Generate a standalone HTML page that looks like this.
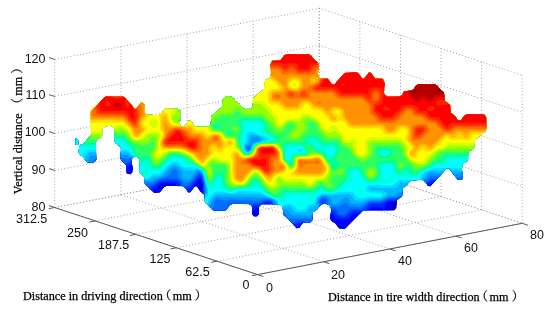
<!DOCTYPE html>
<html><head><meta charset="utf-8"><style>
html,body{margin:0;padding:0;background:#fff;width:550px;height:314px;overflow:hidden}
svg{display:block}
.t{font-family:"Liberation Sans",Arial,sans-serif;font-size:12.5px;fill:#111}
.l{font-family:"Liberation Serif","Noto Serif CJK SC",serif;font-size:12.2px;fill:#000;stroke:#000;stroke-width:0.25px}
</style></head><body>
<svg width="550" height="314" viewBox="0 0 550 314">
<g stroke="#9a9a9a" stroke-width="0.9" stroke-dasharray="1 2.2" fill="none"><line x1="54.7" y1="207.5" x2="319.3" y2="156.2"/><line x1="54.7" y1="170.5" x2="319.3" y2="119.2"/><line x1="54.7" y1="133.5" x2="319.3" y2="82.2"/><line x1="54.7" y1="96.5" x2="319.3" y2="45.2"/><line x1="54.7" y1="59.5" x2="319.3" y2="8.2"/><line x1="54.7" y1="207.5" x2="54.7" y2="59.5"/><line x1="120.9" y1="194.7" x2="120.9" y2="46.7"/><line x1="187" y1="181.8" x2="187" y2="33.8"/><line x1="253.2" y1="169" x2="253.2" y2="21"/><line x1="319.3" y1="156.2" x2="319.3" y2="8.2"/><line x1="319.3" y1="156.2" x2="522.2" y2="223.3"/><line x1="319.3" y1="119.2" x2="522.2" y2="186.3"/><line x1="319.3" y1="82.2" x2="522.2" y2="149.3"/><line x1="319.3" y1="45.2" x2="522.2" y2="112.3"/><line x1="319.3" y1="8.2" x2="522.2" y2="75.3"/><line x1="319.3" y1="156.2" x2="319.3" y2="8.2"/><line x1="359.9" y1="169.6" x2="359.9" y2="21.6"/><line x1="400.5" y1="183" x2="400.5" y2="35"/><line x1="441" y1="196.5" x2="441" y2="48.5"/><line x1="481.6" y1="209.9" x2="481.6" y2="61.9"/><line x1="522.2" y1="223.3" x2="522.2" y2="75.3"/><line x1="54.7" y1="207.5" x2="319.3" y2="156.2"/><line x1="95.3" y1="220.9" x2="359.9" y2="169.6"/><line x1="135.9" y1="234.3" x2="400.5" y2="183"/><line x1="176.4" y1="247.8" x2="441" y2="196.5"/><line x1="217" y1="261.2" x2="481.6" y2="209.9"/><line x1="257.6" y1="274.6" x2="522.2" y2="223.3"/><line x1="54.7" y1="207.5" x2="257.6" y2="274.6"/><line x1="120.9" y1="194.7" x2="323.8" y2="261.8"/><line x1="187" y1="181.8" x2="389.9" y2="249"/><line x1="253.2" y1="169" x2="456.1" y2="236.1"/><line x1="319.3" y1="156.2" x2="522.2" y2="223.3"/></g>
<g fill-rule="evenodd"><path fill="#000092" d="M75.8 138.2 75.8 144.8 78.2 144.8 78.2 140.2ZM486.2 117.2 484.2 114.8 481.8 114.2 466.8 114.2 463.8 116.2 461.2 120.2 457.8 120.2 455.2 116.2 450.8 112.8 450.2 105.2 444.8 100.8 443.8 92.2 441.2 90.8 436.8 85.2 434.2 84.2 418.8 84.2 416.2 85.2 414.2 88.8 411.8 90.8 404.2 91.2 402.2 94.8 399.8 96.8 387.2 96.8 384.2 94.2 383.8 92.2 384.8 85.2 383.8 80.2 382.2 78.8 375.2 78.8 370.8 72.8 368.8 72.8 364.2 78.8 362.2 78.8 359.2 74.2 356.2 72.2 345.2 72.8 337.8 80.2 335.2 84.2 332.8 84.8 330.2 82.8 327.8 78.8 320.8 78.8 318.8 76.8 317.8 73.8 318.8 67.8 318.2 63.2 312.2 57.8 310.8 55.2 308.2 54.2 287.2 54.2 284.2 55.2 280.8 60.2 272.8 60.8 271.2 62.2 270.2 65.2 271.2 71.8 270.8 75.8 268.8 78.2 265.2 80.2 264.2 88.8 253.2 98.2 252.8 105.8 250.8 108.2 248.2 109.2 243.2 108.8 239.2 103.8 234.8 100.8 231.8 96.8 225.2 96.8 222.8 99.2 222.2 106.8 211.2 116.2 210.8 124.2 208.2 126.8 195.2 126.8 190.8 120.8 188.8 120.8 184.2 126.8 181.2 126.2 179.8 124.2 180.8 112.8 180.2 110.8 177.8 108.8 165.2 108.8 160.8 114.2 157.8 115.2 146.8 114.8 144.2 112.2 144.8 104.8 142.8 102.8 140.8 102.8 136.2 108.8 134.2 108.8 130.8 103.8 123.8 96.8 105.2 96.8 90.8 111.2 91.2 134.8 83.2 144.2 79.2 145.2 78.8 152.2 79.2 154.2 82.8 156.8 87.2 162.2 92.2 162.8 94.8 161.8 96.2 159.8 95.8 141.8 98.2 138.8 101.8 136.8 102.2 128.8 105.2 126.2 110.2 125.8 112.8 126.8 114.8 129.2 114.2 140.2 115.2 142.8 120.8 147.2 121.2 151.2 120.2 157.2 121.2 160.2 126.2 165.2 126.8 173.2 130.2 174.2 132.2 172.2 132.8 167.8 131.8 164.2 131.8 158.8 134.2 156.2 137.2 156.8 139.2 159.2 139.8 162.2 139.2 171.8 144.8 177.2 144.8 183.8 154.2 192.8 159.8 192.2 164.2 186.8 167.2 185.8 182.2 185.8 185.8 188.2 188.2 192.2 190.2 192.2 194.8 186.2 196.8 186.2 200.2 191.2 204.2 194.2 205.2 202.8 207.8 204.2 212.2 209.8 215.2 210.8 225.8 210.2 230.2 204.8 232.8 203.8 248.2 203.8 250.8 204.8 252.2 206.8 252.2 214.2 254.2 216.2 256.8 216.2 258.8 214.2 258.8 206.8 261.2 204.2 279.8 204.2 282.8 206.8 283.2 214.8 285.8 216.2 296.8 228.2 299.2 227.8 303.2 222.2 310.2 222.2 312.2 220.2 312.8 212.2 317.2 209.2 321.2 204.2 326.2 203.8 328.8 204.8 330.8 207.2 331.2 210.8 330.2 217.8 331.2 220.8 335.2 223.2 339.2 228.2 344.8 228.8 363.2 210.2 394.2 210.2 396.2 208.2 396.8 200.2 402.2 195.8 402.8 188.2 411.2 180.2 422.2 179.8 425.8 182.2 427.8 185.8 430.2 186.2 446.8 168.2 448.8 168.2 457.8 179.8 461.8 179.8 462.8 178.2 462.8 173.2 461.8 170.8 462.2 165.2 464.2 162.8 467.8 160.8 468.2 153.2 470.2 150.8 473.8 148.8 474.8 140.2 485.8 130.8 486.8 127.8Z"/><path fill="#0000b6" d="M75.8 138.2 75.8 144.8 78.2 144.8 78.2 140.2ZM486.2 117.2 484.2 114.8 481.8 114.2 466.8 114.2 463.8 116.2 461.2 120.2 457.8 120.2 455.2 116.2 450.8 112.8 450.2 105.2 444.8 100.8 443.8 92.2 441.2 90.8 436.8 85.2 434.2 84.2 418.8 84.2 416.2 85.2 414.2 88.8 411.8 90.8 404.2 91.2 402.2 94.8 399.8 96.8 387.2 96.8 384.2 94.2 383.8 92.2 384.8 85.2 383.8 80.2 382.2 78.8 375.2 78.8 370.8 72.8 368.8 72.8 364.2 78.8 362.2 78.8 359.2 74.2 356.2 72.2 345.2 72.8 337.8 80.2 335.2 84.2 332.8 84.8 330.2 82.8 327.8 78.8 320.8 78.8 318.8 76.8 317.8 73.8 318.8 67.8 318.2 63.2 312.2 57.8 310.8 55.2 308.2 54.2 287.2 54.2 284.2 55.2 280.8 60.2 272.8 60.8 271.2 62.2 270.2 65.2 271.2 71.8 270.8 75.8 268.8 78.2 265.2 80.2 264.2 88.8 253.2 98.2 252.8 105.8 250.8 108.2 248.2 109.2 243.2 108.8 239.2 103.8 234.8 100.8 231.8 96.8 225.2 96.8 222.8 99.2 222.2 106.8 211.2 116.2 210.8 124.2 208.2 126.8 195.2 126.8 190.8 120.8 188.8 120.8 184.2 126.8 181.2 126.2 179.8 124.2 180.8 112.8 180.2 110.8 177.8 108.8 165.2 108.8 160.8 114.2 157.8 115.2 146.8 114.8 144.2 112.2 144.8 104.8 142.8 102.8 140.8 102.8 136.2 108.8 134.2 108.8 130.8 103.8 123.8 96.8 105.2 96.8 90.8 111.2 91.2 134.8 83.2 144.2 79.2 145.2 78.8 152.2 79.2 154.2 82.8 156.8 87.2 162.2 92.2 162.8 94.8 161.8 96.2 159.8 95.8 141.8 98.2 138.8 101.8 136.8 102.2 128.8 105.2 126.2 110.2 125.8 112.8 126.8 114.8 129.2 114.2 140.2 115.2 142.8 120.8 147.2 121.2 151.2 120.2 157.2 121.2 160.2 126.2 165.2 126.8 173.2 130.2 174.2 132.2 172.2 132.8 167.8 131.8 164.2 131.8 158.8 134.2 156.2 137.2 156.8 139.2 159.2 139.8 162.2 139.2 171.8 144.8 177.2 144.8 183.8 154.2 192.8 159.8 192.2 164.2 186.8 167.2 185.8 182.2 185.8 185.8 188.2 188.2 192.2 190.2 192.2 194.8 186.2 196.8 186.2 200.2 191.2 204.2 194.2 205.2 202.8 207.8 204.2 212.2 209.8 215.2 210.8 225.8 210.2 230.2 204.8 232.8 203.8 248.2 203.8 250.8 204.8 252.2 206.8 252.2 214.2 254.2 216.2 256.8 216.2 258.8 214.2 258.8 206.8 261.2 204.2 279.8 204.2 282.8 206.8 283.2 214.8 285.8 216.2 296.8 228.2 299.2 227.8 303.2 222.2 310.2 222.2 312.2 220.2 312.8 212.2 317.2 209.2 321.2 204.2 326.2 203.8 328.8 204.8 330.8 207.2 331.2 210.8 330.2 217.8 331.2 220.8 335.2 223.2 339.2 228.2 344.8 228.8 363.2 210.2 394.2 210.2 396.2 208.2 396.8 200.2 402.2 195.8 402.8 188.2 411.2 180.2 422.2 179.8 425.8 182.2 427.8 185.8 430.2 186.2 446.8 168.2 448.8 168.2 457.8 179.8 461.8 179.8 462.8 178.2 462.8 173.2 461.8 170.8 462.2 165.2 464.2 162.8 467.8 160.8 468.2 153.2 470.2 150.8 473.8 148.8 474.8 140.2 485.8 130.8 486.8 127.8Z"/><path fill="#0000db" d="M75.8 138.2 75.8 144.8 78.2 144.8 78.2 140.2ZM486.2 117.2 484.2 114.8 481.8 114.2 466.8 114.2 463.8 116.2 461.2 120.2 457.8 120.2 455.2 116.2 450.8 112.8 450.2 105.2 444.8 100.8 443.8 92.2 441.2 90.8 436.8 85.2 434.2 84.2 418.8 84.2 416.2 85.2 414.2 88.8 411.8 90.8 404.2 91.2 402.2 94.8 399.8 96.8 387.2 96.8 384.2 94.2 383.8 92.2 384.8 85.2 383.8 80.2 382.2 78.8 375.2 78.8 370.8 72.8 368.8 72.8 364.2 78.8 362.2 78.8 359.2 74.2 356.2 72.2 345.2 72.8 337.8 80.2 335.2 84.2 332.8 84.8 330.2 82.8 327.8 78.8 320.8 78.8 318.8 76.8 317.8 73.8 318.8 67.8 318.2 63.2 312.2 57.8 310.8 55.2 308.2 54.2 287.2 54.2 284.2 55.2 280.8 60.2 272.8 60.8 271.2 62.2 270.2 65.2 271.2 71.8 270.8 75.8 268.8 78.2 265.2 80.2 264.2 88.8 253.2 98.2 252.8 105.8 250.8 108.2 248.2 109.2 243.2 108.8 239.2 103.8 234.8 100.8 231.8 96.8 225.2 96.8 222.8 99.2 222.2 106.8 211.2 116.2 210.8 124.2 208.2 126.8 195.2 126.8 190.8 120.8 188.8 120.8 184.2 126.8 181.2 126.2 179.8 124.2 180.8 112.8 180.2 110.8 177.8 108.8 165.2 108.8 160.8 114.2 157.8 115.2 146.8 114.8 144.2 112.2 144.8 104.8 142.8 102.8 140.8 102.8 136.2 108.8 134.2 108.8 130.8 103.8 123.8 96.8 105.2 96.8 90.8 111.2 91.2 134.8 83.2 144.2 79.2 145.2 78.8 152.2 79.2 154.2 82.8 156.8 87.2 162.2 92.2 162.8 94.8 161.8 96.2 159.8 95.8 141.8 98.2 138.8 101.8 136.8 102.2 128.8 105.2 126.2 110.2 125.8 112.8 126.8 114.8 129.2 114.2 140.2 115.2 142.8 120.8 147.2 121.2 151.2 120.2 157.2 121.2 160.2 126.2 165.2 126.8 173.2 130.2 174.2 132.2 172.2 132.8 167.8 131.8 164.2 131.8 158.8 134.2 156.2 137.2 156.8 139.2 159.2 139.8 162.2 139.2 171.8 144.8 177.2 144.8 183.8 154.2 192.8 159.8 192.2 164.2 186.8 167.2 185.8 182.2 185.8 185.8 188.2 188.2 192.2 190.2 192.2 194.8 186.2 196.8 186.2 197.8 187.2 199.2 186.8 200.2 191.2 204.8 195.2 205.2 202.8 207.8 204.2 212.2 209.8 215.2 210.8 225.8 210.2 230.2 204.8 232.8 203.8 248.2 203.8 250.8 204.8 252.2 206.8 252.2 214.2 254.2 216.2 256.8 216.2 258.8 214.2 258.8 206.8 261.2 204.2 279.8 204.2 282.8 206.8 283.2 214.8 285.8 216.2 296.8 228.2 299.2 227.8 303.2 222.2 310.2 222.2 312.2 220.2 312.8 212.2 317.2 209.2 321.2 204.2 326.2 203.8 328.8 204.8 330.8 207.2 331.2 210.8 330.2 217.8 331.2 220.8 335.2 223.2 339.2 228.2 344.8 228.8 363.2 210.2 392.2 210.2 392.8 206.8 396.2 205.2 396.8 200.2 402.2 195.8 402.8 188.2 411.2 180.2 422.2 179.8 425.8 182.2 427.8 185.8 430.2 186.2 446.8 168.2 448.8 168.2 457.8 179.8 461.8 179.8 462.8 178.2 462.8 173.2 461.8 170.8 462.2 165.2 464.2 162.8 467.8 160.8 468.2 153.2 470.2 150.8 473.8 148.8 474.8 140.2 485.8 130.8 486.8 127.8Z"/><path fill="#0000ff" d="M75.8 138.2 75.8 144.8 78.2 144.8 78.2 140.2ZM486.2 117.2 484.2 114.8 481.8 114.2 466.8 114.2 463.8 116.2 461.2 120.2 457.8 120.2 455.2 116.2 450.8 112.8 450.2 105.2 444.8 100.8 443.8 92.2 441.2 90.8 436.8 85.2 434.2 84.2 418.8 84.2 416.2 85.2 414.2 88.8 411.8 90.8 404.2 91.2 402.2 94.8 399.8 96.8 387.2 96.8 384.2 94.2 383.8 92.2 384.8 85.2 383.8 80.2 382.2 78.8 375.2 78.8 370.8 72.8 368.8 72.8 364.2 78.8 362.2 78.8 359.2 74.2 356.2 72.2 345.2 72.8 337.8 80.2 335.2 84.2 332.8 84.8 330.2 82.8 327.8 78.8 320.8 78.8 318.8 76.8 317.8 73.8 318.8 67.8 318.2 63.2 312.2 57.8 310.8 55.2 308.2 54.2 287.2 54.2 284.2 55.2 280.8 60.2 272.8 60.8 271.2 62.2 270.2 65.2 271.2 71.8 270.8 75.8 268.8 78.2 265.2 80.2 264.2 88.8 253.2 98.2 252.8 105.8 250.8 108.2 248.2 109.2 243.2 108.8 239.2 103.8 234.8 100.8 231.8 96.8 225.2 96.8 222.8 99.2 222.2 106.8 211.2 116.2 210.8 124.2 208.2 126.8 195.2 126.8 190.8 120.8 188.8 120.8 184.2 126.8 181.2 126.2 179.8 124.2 180.8 112.8 180.2 110.8 177.8 108.8 165.2 108.8 160.8 114.2 157.8 115.2 146.8 114.8 144.2 112.2 144.8 104.8 142.8 102.8 140.8 102.8 136.2 108.8 134.2 108.8 130.8 103.8 123.8 96.8 105.2 96.8 90.8 111.2 91.2 134.8 83.2 144.2 79.2 145.2 78.8 152.2 79.2 154.2 82.8 156.8 87.2 162.2 92.2 162.8 94.8 161.8 96.2 159.8 95.8 141.8 98.2 138.8 101.8 136.8 102.2 128.8 105.2 126.2 110.2 125.8 112.8 126.8 114.8 129.2 114.2 140.2 115.2 142.8 120.8 147.2 121.2 151.2 120.2 157.2 121.2 160.2 126.2 165.2 126.8 173.2 130.2 174.2 132.2 172.2 132.8 167.8 131.8 164.2 131.8 158.8 134.2 156.2 137.2 156.8 139.2 159.2 139.8 162.2 139.2 171.8 144.8 177.2 144.8 183.8 154.2 192.8 159.8 192.2 164.2 186.8 167.2 185.8 182.2 185.8 185.8 188.2 188.2 192.2 190.2 192.2 194.8 186.2 196.2 186.2 196.8 182.8 199.2 180.8 200.8 181.8 201.8 184.2 201.2 192.2 204.8 195.2 204.8 201.8 213.2 210.2 225.8 210.2 230.2 204.8 232.8 203.8 248.2 203.8 250.8 204.8 252.2 206.8 252.2 214.2 254.2 216.2 256.8 216.2 258.8 214.2 258.8 206.8 260.2 204.8 263.2 203.8 279.8 204.2 282.8 206.8 283.2 214.8 285.8 216.2 296.8 228.2 299.2 227.8 303.2 222.2 310.2 222.2 312.2 220.2 312.8 212.2 317.2 209.2 321.2 204.2 326.2 203.8 328.8 204.8 330.8 207.2 331.2 210.8 330.2 217.8 331.2 220.8 335.2 223.2 339.2 228.2 344.8 228.8 363.2 210.2 389.2 210.2 389.8 204.2 392.8 202.8 396.2 202.8 396.8 200.2 401.8 196.8 402.8 188.2 411.2 180.2 422.2 179.8 425.8 182.2 427.8 185.8 430.2 186.2 446.8 168.2 448.8 168.2 457.8 179.8 461.8 179.8 462.8 178.2 462.8 173.2 461.8 170.8 462.2 165.2 464.2 162.8 467.8 160.8 468.2 153.2 470.2 150.8 473.8 148.8 474.8 140.2 485.8 130.8 486.8 127.8Z"/><path fill="#0024ff" d="M75.8 138.2 75.8 144.8 78.2 144.8 78.2 140.2ZM486.2 117.2 484.2 114.8 481.8 114.2 466.8 114.2 463.8 116.2 461.2 120.2 457.8 120.2 455.2 116.2 450.8 112.8 450.2 105.2 444.8 100.8 443.8 92.2 441.2 90.8 436.8 85.2 434.2 84.2 418.8 84.2 416.2 85.2 414.2 88.8 411.8 90.8 404.2 91.2 402.2 94.8 399.8 96.8 387.2 96.8 384.2 94.2 383.8 92.2 384.8 85.2 383.8 80.2 382.2 78.8 375.2 78.8 370.8 72.8 368.8 72.8 364.2 78.8 362.2 78.8 359.2 74.2 356.2 72.2 345.2 72.8 337.8 80.2 335.2 84.2 332.8 84.8 330.2 82.8 327.8 78.8 320.8 78.8 318.8 76.8 317.8 73.8 318.8 67.8 318.2 63.2 312.2 57.8 310.8 55.2 308.2 54.2 287.2 54.2 284.2 55.2 280.8 60.2 272.8 60.8 271.2 62.2 270.2 65.2 271.2 71.8 270.8 75.8 268.8 78.2 265.2 80.2 264.2 88.8 253.2 98.2 252.8 105.8 250.8 108.2 248.2 109.2 243.2 108.8 239.2 103.8 234.8 100.8 231.8 96.8 225.2 96.8 222.8 99.2 222.2 106.8 211.2 116.2 210.8 124.2 208.2 126.8 195.2 126.8 190.8 120.8 188.8 120.8 184.2 126.8 181.2 126.2 179.8 124.2 180.8 112.8 180.2 110.8 177.8 108.8 165.2 108.8 160.8 114.2 157.8 115.2 146.8 114.8 144.2 112.2 144.8 104.8 142.8 102.8 140.8 102.8 136.2 108.8 134.2 108.8 130.8 103.8 123.8 96.8 105.2 96.8 90.8 111.2 91.2 134.8 83.2 144.2 79.2 145.2 78.8 152.2 79.2 154.2 82.8 156.8 87.2 162.2 92.2 162.8 94.8 161.8 96.2 159.8 95.8 141.8 98.2 138.8 101.8 136.8 102.2 128.8 104.2 126.8 106.8 125.8 111.8 126.2 114.8 129.2 114.8 141.8 120.2 146.2 121.2 148.8 120.2 157.2 121.2 160.2 126.2 165.2 126.8 173.2 127.8 168.2 130.2 165.2 131.8 164.8 132.2 157.8 134.2 156.2 137.2 156.8 139.2 159.2 139.8 162.2 139.2 171.8 144.8 177.2 145.2 184.8 149.2 187.2 151.8 190.8 155.8 188.8 159.8 184.2 161.8 183.2 175.2 183.2 177.8 186.2 183.8 186.2 188.2 192.2 192.2 189.8 196.8 180.2 199.8 178.8 202.8 184.2 202.2 192.8 204.8 195.2 204.8 201.8 210.8 207.2 212.2 209.8 215.2 210.8 225.8 210.2 230.2 204.8 232.8 203.8 249.8 204.2 252.2 206.8 252.2 210.8 258.8 207.2 260.2 204.8 263.2 203.8 279.8 204.2 282.8 206.8 283.2 214.8 293.8 224.2 295.8 227.8 301.2 224.8 303.2 222.2 310.2 222.2 312.2 220.2 312.8 212.2 317.2 209.2 318.8 206.8 322.8 203.8 326.2 203.8 330.2 206.2 331.2 210.2 330.8 212.8 333.8 215.2 335.8 219.2 348.8 219.2 353.2 213.2 360.2 213.8 362.2 210.8 364.8 209.8 369.2 210.2 372.2 206.8 382.2 207.8 384.2 210.2 384.8 205.8 387.2 202.2 389.8 201.2 396.2 201.2 398.2 198.8 401.8 196.8 402.8 188.2 411.2 180.2 422.2 179.8 425.8 182.2 427.8 185.8 428.8 185.8 431.2 183.2 433.2 182.8 446.8 168.2 448.8 168.2 457.8 179.8 461.8 179.8 462.8 178.2 462.8 173.2 461.8 170.8 462.2 165.2 464.2 162.8 467.8 160.8 468.2 153.2 470.2 150.8 473.8 148.8 474.8 140.2 485.8 130.8 486.8 127.8Z"/><path fill="#0049ff" d="M75.8 138.2 75.8 144.8 78.2 144.8 78.2 140.2ZM486.2 117.2 484.2 114.8 481.8 114.2 466.8 114.2 463.8 116.2 461.2 120.2 457.8 120.2 455.2 116.2 450.8 112.8 450.2 105.2 444.8 100.8 443.8 92.2 441.2 90.8 436.8 85.2 434.2 84.2 418.8 84.2 416.2 85.2 414.2 88.8 411.8 90.8 404.2 91.2 402.2 94.8 399.8 96.8 387.2 96.8 384.2 94.2 383.8 92.2 384.8 85.2 383.8 80.2 382.2 78.8 375.2 78.8 370.8 72.8 368.8 72.8 364.2 78.8 362.2 78.8 359.2 74.2 356.2 72.2 345.2 72.8 337.8 80.2 335.2 84.2 332.8 84.8 330.2 82.8 327.8 78.8 320.8 78.8 318.8 76.8 317.8 73.8 318.8 67.8 318.2 63.2 312.2 57.8 310.8 55.2 308.2 54.2 287.2 54.2 284.2 55.2 280.8 60.2 272.8 60.8 271.2 62.2 270.2 65.2 271.2 71.8 270.8 75.8 268.8 78.2 265.2 80.2 264.2 88.8 253.2 98.2 252.8 105.8 250.8 108.2 248.2 109.2 243.2 108.8 239.2 103.8 234.8 100.8 231.8 96.8 225.2 96.8 222.8 99.2 222.2 106.8 211.2 116.2 210.8 124.2 208.2 126.8 195.2 126.8 190.8 120.8 188.8 120.8 184.2 126.8 181.2 126.2 179.8 124.2 180.8 112.8 180.2 110.8 177.8 108.8 165.2 108.8 160.8 114.2 157.8 115.2 146.8 114.8 144.2 112.2 144.8 104.8 142.8 102.8 140.8 102.8 136.2 108.8 134.2 108.8 130.8 103.8 123.8 96.8 105.2 96.8 90.8 111.2 91.2 134.8 83.2 144.2 79.2 145.2 78.8 152.2 79.2 154.2 82.8 156.8 87.2 162.2 92.2 162.8 94.8 161.8 96.2 159.8 95.8 141.8 98.2 138.8 101.8 136.8 102.2 128.8 104.2 126.8 106.8 125.8 111.8 126.2 114.8 129.2 114.8 141.8 120.2 146.2 121.2 148.8 120.2 155.8 121.2 160.2 126.2 165.2 131.8 162.2 131.8 158.8 133.2 156.8 137.2 156.8 139.2 159.2 139.8 162.2 139.2 171.8 144.8 177.2 145.2 184.8 150.2 188.8 158.2 182.8 161.8 181.2 175.8 180.8 179.8 183.8 180.2 185.8 183.8 186.2 186.2 189.2 190.8 186.8 196.8 178.2 199.8 176.2 201.2 177.8 203.2 182.8 203.8 191.8 202.8 193.2 204.8 195.2 204.8 201.8 210.8 207.2 212.2 209.8 215.2 210.8 225.8 210.2 230.2 204.8 232.8 203.8 248.2 203.8 250.8 204.8 252.2 206.8 255.2 205.2 262.8 204.2 265.8 201.2 269.2 201.2 271.8 204.2 280.8 204.8 282.8 206.8 283.2 214.8 285.8 216.2 293.8 224.8 298.2 222.8 310.2 222.2 312.2 220.2 312.8 212.2 317.2 209.2 318.8 206.8 322.8 203.8 328.8 204.8 330.8 207.2 331.2 210.2 333.8 211.2 338.2 216.2 343.2 217.2 346.8 216.2 352.2 210.8 355.2 210.2 361.8 211.2 365.8 209.8 369.8 204.8 372.2 203.8 380.8 204.2 387.8 200.2 396.8 200.2 401.8 196.8 402.8 188.2 405.8 186.2 410.2 180.8 422.2 179.8 423.8 180.2 426.8 183.8 430.8 180.8 435.8 180.2 446.8 168.2 448.8 168.2 457.8 179.8 461.8 179.8 462.8 178.2 462.8 173.2 461.8 170.8 462.2 165.2 464.2 162.8 467.8 160.8 468.2 153.2 470.2 150.8 473.8 148.8 474.8 140.2 485.8 130.8 486.8 127.8Z"/><path fill="#006dff" d="M75.8 138.2 75.8 144.8 78.2 144.8 78.2 140.2ZM486.2 117.2 484.2 114.8 481.8 114.2 466.8 114.2 463.8 116.2 461.2 120.2 457.8 120.2 455.2 116.2 450.8 112.8 450.2 105.2 444.8 100.8 443.8 92.2 441.2 90.8 436.8 85.2 434.2 84.2 418.8 84.2 416.2 85.2 414.2 88.8 411.8 90.8 404.2 91.2 402.2 94.8 399.8 96.8 387.2 96.8 384.2 94.2 383.8 92.2 384.8 85.2 383.8 80.2 382.2 78.8 375.2 78.8 370.8 72.8 368.8 72.8 364.2 78.8 362.2 78.8 359.2 74.2 356.2 72.2 345.2 72.8 337.8 80.2 335.2 84.2 332.8 84.8 330.2 82.8 327.8 78.8 320.8 78.8 318.8 76.8 317.8 73.8 318.8 67.8 318.2 63.2 312.2 57.8 310.8 55.2 308.2 54.2 287.2 54.2 284.2 55.2 280.8 60.2 272.8 60.8 271.2 62.2 270.2 65.2 271.2 71.8 270.8 75.8 268.8 78.2 265.2 80.2 264.2 88.8 253.2 98.2 252.8 105.8 250.8 108.2 248.2 109.2 243.2 108.8 239.2 103.8 234.8 100.8 231.8 96.8 225.2 96.8 222.8 99.2 222.2 106.8 211.2 116.2 210.8 124.2 208.2 126.8 195.2 126.8 190.8 120.8 188.8 120.8 184.2 126.8 181.2 126.2 179.8 124.2 180.8 112.8 180.2 110.8 177.8 108.8 165.2 108.8 160.8 114.2 157.8 115.2 146.8 114.8 144.2 112.2 144.8 104.8 142.8 102.8 140.8 102.8 136.2 108.8 134.2 108.8 130.8 103.8 123.8 96.8 105.2 96.8 90.8 111.2 91.2 134.8 83.2 144.2 79.2 145.2 78.8 152.2 79.2 154.2 82.8 156.8 87.2 162.2 92.2 162.8 94.8 161.8 96.2 159.8 95.8 141.8 98.2 138.8 101.8 136.8 102.2 128.8 105.2 126.2 110.2 125.8 112.8 126.8 114.8 129.2 114.8 141.8 120.2 146.2 121.2 148.8 120.2 155.8 121.2 160.2 125.2 163.2 131.8 160.2 133.2 156.8 137.2 156.8 139.2 159.2 139.8 162.2 139.2 171.8 144.2 176.2 144.8 183.8 148.2 186.8 151.2 185.8 159.8 180.2 165.8 178.8 175.8 178.8 179.2 180.2 181.8 182.8 182.8 186.2 184.8 187.2 190.2 184.2 198.8 173.8 200.2 173.8 201.8 175.8 204.2 184.8 204.8 191.8 203.8 193.8 204.8 195.2 204.8 201.8 213.2 210.2 225.8 210.2 230.2 204.8 232.8 203.8 248.2 203.8 251.2 204.8 255.8 202.8 260.8 202.8 265.8 199.8 268.8 199.8 271.8 201.2 273.2 204.2 280.8 204.8 282.8 206.8 283.2 214.8 285.8 216.2 291.2 222.2 293.2 222.8 297.2 220.8 303.2 220.8 305.8 222.2 310.2 222.2 312.2 220.2 312.8 212.2 317.2 209.2 321.8 204.2 320.2 202.8 320.2 200.8 322.2 198.8 324.2 198.8 326.2 200.2 325.8 203.8 328.8 204.8 331.2 208.8 336.2 209.8 339.2 214.2 343.2 215.2 346.2 213.8 349.8 209.2 362.8 208.8 367.8 203.8 370.8 202.2 378.8 202.8 388.2 198.8 399.8 198.2 402.2 195.8 402.8 188.2 405.8 186.2 410.2 180.8 422.2 179.8 425.8 182.2 430.8 178.8 436.8 179.2 446.8 168.2 448.8 168.2 457.8 179.8 461.8 179.8 462.8 178.2 462.8 173.2 461.8 170.8 462.2 165.2 464.2 162.8 467.8 160.8 468.2 153.2 470.2 150.8 473.8 148.8 474.8 140.2 485.8 130.8 486.8 127.8Z"/><path fill="#0092ff" d="M75.8 138.2 75.8 144.8 78.2 144.8 78.2 140.2ZM486.2 117.2 484.2 114.8 481.8 114.2 466.8 114.2 463.8 116.2 461.2 120.2 457.8 120.2 455.2 116.2 450.8 112.8 450.2 105.2 444.8 100.8 443.8 92.2 441.2 90.8 436.8 85.2 434.2 84.2 418.8 84.2 416.2 85.2 414.2 88.8 411.8 90.8 404.2 91.2 402.2 94.8 399.8 96.8 387.2 96.8 384.2 94.2 383.8 92.2 384.8 85.2 383.8 80.2 382.2 78.8 375.2 78.8 370.8 72.8 368.8 72.8 364.2 78.8 362.2 78.8 359.2 74.2 356.2 72.2 345.2 72.8 337.8 80.2 335.2 84.2 332.8 84.8 330.2 82.8 327.8 78.8 320.8 78.8 318.8 76.8 317.8 73.8 318.8 67.8 318.2 63.2 312.2 57.8 310.8 55.2 308.2 54.2 287.2 54.2 284.2 55.2 280.8 60.2 272.8 60.8 271.2 62.2 270.2 65.2 271.2 71.8 270.8 75.8 268.8 78.2 265.2 80.2 264.2 88.8 253.2 98.2 252.8 105.8 250.8 108.2 248.2 109.2 243.2 108.8 239.2 103.8 234.8 100.8 231.8 96.8 225.2 96.8 222.8 99.2 222.2 106.8 211.2 116.2 210.8 124.2 208.2 126.8 195.2 126.8 190.8 120.8 188.8 120.8 184.2 126.8 181.2 126.2 179.8 124.2 180.8 112.8 180.2 110.8 177.8 108.8 165.2 108.8 160.8 114.2 157.8 115.2 146.8 114.8 144.2 112.2 144.8 104.8 142.8 102.8 140.8 102.8 136.2 108.8 134.2 108.8 130.8 103.8 123.8 96.8 105.2 96.8 90.8 111.2 91.2 134.8 83.2 144.2 79.2 145.2 78.8 152.2 79.2 154.2 82.8 156.8 87.2 162.2 93.2 162.2 93.2 160.2 96.2 158.2 95.8 141.8 98.2 138.8 101.8 136.8 102.2 128.8 105.2 126.2 110.2 125.8 112.8 126.8 114.8 129.2 114.8 141.8 120.2 146.2 121.2 148.8 120.2 155.8 120.8 158.2 131.8 158.8 134.2 156.2 136.2 156.2 138.8 158.2 139.8 162.2 139.2 171.8 144.8 177.2 144.8 183.2 150.2 183.2 157.2 179.8 168.8 175.8 172.8 169.8 175.8 169.8 177.8 171.8 177.2 175.2 178.8 177.8 184.2 182.2 188.2 182.8 190.2 181.8 193.8 178.2 196.2 173.8 199.2 171.8 202.8 175.8 204.8 184.2 204.8 201.8 210.8 207.2 211.8 209.2 213.2 207.2 213.8 202.2 216.8 199.2 220.2 200.2 233.2 199.8 259.2 200.8 264.2 198.8 268.2 198.8 272.2 200.2 274.8 204.2 280.8 204.8 282.8 206.8 282.8 212.2 285.8 214.2 286.2 216.8 287.8 218.2 312.2 218.8 312.2 213.2 314.2 210.8 317.2 209.2 320.2 205.2 318.8 202.8 318.8 200.8 322.2 197.2 325.2 197.2 328.2 199.8 328.2 204.8 330.2 206.8 338.8 206.8 344.8 202.8 345.8 202.8 349.2 206.2 361.2 206.8 369.2 201.2 379.8 201.2 387.8 197.8 395.2 197.2 402.2 194.8 402.8 188.2 405.8 186.2 410.2 180.8 422.2 179.8 424.8 181.2 430.8 176.2 438.8 176.8 446.8 168.2 448.8 168.2 456.8 178.2 462.8 175.8 461.8 170.8 462.2 165.2 464.2 162.8 467.8 160.8 468.2 153.2 470.2 150.8 473.8 148.8 474.8 140.2 486.2 129.8ZM249.2 144.8 250.2 145.8 250.2 148.2 248.2 150.2 246.2 147.8 246.8 146.2ZM254.8 139.8 255.8 138.8 256.8 139.8Z"/><path fill="#00b6ff" d="M75.8 138.2 75.8 144.8 78.2 144.8 78.2 140.2ZM486.2 117.2 484.2 114.8 481.8 114.2 466.8 114.2 463.8 116.2 461.2 120.2 457.8 120.2 455.2 116.2 450.8 112.8 450.2 105.2 444.8 100.8 443.8 92.2 441.2 90.8 436.8 85.2 434.2 84.2 418.8 84.2 416.2 85.2 414.2 88.8 411.8 90.8 404.2 91.2 402.2 94.8 399.8 96.8 387.2 96.8 384.2 94.2 383.8 92.2 384.8 85.2 383.8 80.2 382.2 78.8 375.2 78.8 370.8 72.8 368.8 72.8 364.2 78.8 362.2 78.8 359.2 74.2 356.2 72.2 345.2 72.8 337.8 80.2 335.2 84.2 332.8 84.8 330.2 82.8 327.8 78.8 320.8 78.8 318.8 76.8 317.8 73.8 318.8 67.8 318.2 63.2 312.2 57.8 310.8 55.2 308.2 54.2 287.2 54.2 284.2 55.2 280.8 60.2 272.8 60.8 271.2 62.2 270.2 65.2 271.2 71.8 270.8 75.8 268.8 78.2 265.2 80.2 264.2 88.8 253.2 98.2 252.8 105.8 250.8 108.2 248.2 109.2 243.2 108.8 239.2 103.8 234.8 100.8 231.8 96.8 225.2 96.8 222.8 99.2 222.2 106.8 211.2 116.2 210.8 124.2 208.2 126.8 195.2 126.8 190.8 120.8 188.8 120.8 184.2 126.8 181.2 126.2 179.8 124.2 180.8 112.8 180.2 110.8 177.8 108.8 165.2 108.8 160.8 114.2 157.8 115.2 146.8 114.8 144.2 112.2 144.8 104.8 142.8 102.8 140.8 102.8 136.2 108.8 134.2 108.8 130.8 103.8 123.8 96.8 105.2 96.8 90.8 111.2 91.2 134.8 83.2 144.2 79.2 145.2 78.8 152.2 79.2 154.2 82.8 156.8 87.2 162.2 88.2 162.2 89.2 157.8 90.8 155.8 96.2 155.2 95.8 141.8 98.2 138.8 101.8 136.8 102.2 128.8 105.2 126.2 110.2 125.8 112.8 126.8 114.8 129.2 114.2 140.2 115.2 142.8 120.8 147.2 120.8 154.8 126.8 154.8 132.2 157.8 134.2 156.2 136.2 156.2 138.8 158.2 139.8 162.2 139.2 171.8 144.2 176.2 144.8 181.2 151.2 180.8 163.2 176.2 167.8 170.8 172.8 166.8 177.2 167.2 181.8 172.2 181.8 176.8 186.2 180.2 189.2 179.8 196.2 171.2 199.8 170.8 203.2 174.8 206.2 188.8 206.2 192.2 204.8 194.8 204.8 201.8 210.2 206.8 212.2 199.8 216.8 196.2 221.2 197.2 235.2 196.8 267.8 197.8 273.2 199.8 275.2 201.8 275.8 204.2 280.8 204.8 282.8 206.8 282.8 209.8 288.2 209.8 289.8 213.2 292.2 215.2 309.8 215.8 312.2 215.2 312.8 212.2 318.8 207.2 319.2 205.8 317.8 203.8 317.8 200.2 321.2 196.2 324.8 195.8 329.8 197.2 331.2 198.8 331.8 203.2 333.8 204.2 336.2 204.2 339.8 202.8 341.2 200.2 345.2 197.2 348.2 197.8 350.8 202.8 352.2 203.8 360.8 203.8 369.8 199.8 380.8 199.8 388.2 196.2 393.8 195.8 399.2 192.2 402.2 191.8 402.8 188.2 405.8 186.2 410.2 180.8 420.8 179.8 423.8 180.2 425.8 176.2 430.2 173.2 442.2 173.8 446.8 168.2 448.8 168.2 454.8 175.2 456.8 173.8 462.2 172.8 462.2 165.2 464.2 162.8 467.8 160.8 468.2 153.2 470.2 150.8 473.8 148.8 474.8 140.2 486.2 129.8ZM259.2 137.8 260.8 139.8 259.2 141.2 252.8 142.8 251.8 143.8 250.8 149.2 248.8 151.2 247.2 151.2 245.8 149.8 245.2 147.2 245.8 145.8 250.8 141.8 251.8 137.8 252.8 136.8 256.8 136.8Z"/><path fill="#00dbff" d="M75.8 138.2 75.8 144.8 78.2 144.8 78.2 140.2ZM486.2 117.2 484.2 114.8 481.8 114.2 466.8 114.2 463.8 116.2 461.2 120.2 457.8 120.2 455.2 116.2 450.8 112.8 450.2 105.2 444.8 100.8 443.8 92.2 441.2 90.8 436.8 85.2 434.2 84.2 418.8 84.2 416.2 85.2 414.2 88.8 411.8 90.8 404.2 91.2 402.2 94.8 399.8 96.8 387.2 96.8 384.2 94.2 383.8 92.2 384.8 85.2 383.8 80.2 382.2 78.8 375.2 78.8 370.8 72.8 368.8 72.8 364.2 78.8 362.2 78.8 359.2 74.2 356.2 72.2 345.2 72.8 337.8 80.2 335.2 84.2 332.8 84.8 330.2 82.8 327.8 78.8 320.8 78.8 318.8 76.8 317.8 73.8 318.8 67.8 318.2 63.2 312.2 57.8 310.8 55.2 308.2 54.2 287.2 54.2 284.2 55.2 280.8 60.2 272.8 60.8 271.2 62.2 270.2 65.2 271.2 71.8 270.8 75.8 268.8 78.2 265.2 80.2 264.2 88.8 253.2 98.2 252.8 105.8 250.8 108.2 248.2 109.2 243.2 108.8 239.2 103.8 234.8 100.8 231.8 96.8 225.2 96.8 222.8 99.2 222.2 106.8 211.2 116.2 210.8 124.2 208.2 126.8 195.2 126.8 190.8 120.8 188.8 120.8 184.2 126.8 181.2 126.2 179.8 124.2 180.8 112.8 180.2 110.8 177.8 108.8 165.2 108.8 160.8 114.2 157.8 115.2 146.8 114.8 144.2 112.2 144.8 104.8 142.8 102.8 140.8 102.8 136.2 108.8 134.2 108.8 130.8 103.8 123.8 96.8 105.2 96.8 90.8 111.2 91.2 134.8 83.2 144.2 79.2 145.2 78.8 152.2 79.2 154.2 84.8 159.2 85.8 158.8 86.8 154.2 88.8 152.2 96.2 152.2 95.8 141.8 98.2 138.8 101.8 136.8 102.2 128.8 105.2 126.2 110.2 125.8 112.8 126.8 114.8 129.2 114.2 140.2 115.2 142.8 120.2 146.2 121.2 148.8 120.8 152.8 127.8 152.2 132.8 156.8 136.2 156.2 138.8 158.2 139.8 162.2 139.2 171.8 144.2 176.2 144.8 180.2 149.8 179.2 153.8 176.8 161.2 175.2 169.2 166.2 172.8 164.2 176.2 164.2 184.2 170.2 191.8 170.8 197.2 169.2 200.8 170.2 202.8 172.2 207.2 189.8 207.2 192.8 204.8 196.2 204.8 201.8 208.8 205.2 210.8 198.8 215.8 194.2 259.8 194.2 273.2 198.8 276.8 201.8 277.2 204.2 280.8 204.8 282.8 207.8 286.8 206.2 290.2 206.2 294.8 212.2 300.8 212.8 306.8 211.8 310.2 206.8 315.8 205.8 317.2 198.2 321.8 194.8 334.2 195.2 339.2 194.2 349.2 194.2 352.8 196.8 354.2 199.8 357.2 200.8 361.2 200.8 371.8 198.2 379.8 198.8 385.8 195.8 387.8 193.2 382.8 190.2 371.2 190.2 369.8 189.2 370.8 187.2 378.2 188.2 394.2 188.2 396.8 187.2 401.2 182.2 408.8 182.8 411.2 180.2 422.2 179.8 423.2 175.8 426.2 172.8 430.8 170.8 444.2 170.8 446.8 168.2 448.8 168.2 450.8 170.8 461.8 170.8 461.8 166.8 462.8 164.2 468.2 159.8 468.8 152.2 474.2 147.8 474.8 140.2 486.2 129.8ZM264.2 139.2 260.8 141.8 253.8 143.8 252.2 145.8 251.2 149.8 249.2 151.8 247.8 152.2 244.8 149.8 244.8 145.2 248.2 141.2 248.8 136.2 250.8 134.2 256.8 135.2 262.8 137.8Z"/><path fill="#00ffff" d="M75.8 138.2 75.8 144.8 78.2 144.8 78.2 140.2ZM486.2 117.2 484.2 114.8 481.8 114.2 466.8 114.2 463.8 116.2 461.2 120.2 457.8 120.2 455.2 116.2 450.8 112.8 450.2 105.2 444.8 100.8 443.8 92.2 441.2 90.8 436.8 85.2 434.2 84.2 418.8 84.2 416.2 85.2 414.2 88.8 411.8 90.8 404.2 91.2 402.2 94.8 399.8 96.8 387.2 96.8 384.2 94.2 383.8 92.2 384.8 85.2 383.8 80.2 382.2 78.8 375.2 78.8 370.8 72.8 368.8 72.8 364.2 78.8 362.2 78.8 359.2 74.2 356.2 72.2 345.2 72.8 337.8 80.2 335.2 84.2 332.8 84.8 330.2 82.8 327.8 78.8 320.8 78.8 318.8 76.8 317.8 73.8 318.8 67.8 318.2 63.2 312.2 57.8 310.8 55.2 308.2 54.2 287.2 54.2 284.2 55.2 280.8 60.2 272.8 60.8 271.2 62.2 270.2 65.2 271.2 71.8 270.8 75.8 268.8 78.2 265.2 80.2 264.2 88.8 253.2 98.2 252.8 105.8 250.8 108.2 248.2 109.2 243.2 108.8 239.2 103.8 234.8 100.8 231.8 96.8 225.2 96.8 222.8 99.2 222.2 106.8 211.2 116.2 210.8 124.2 208.2 126.8 195.2 126.8 190.8 120.8 188.8 120.8 184.2 126.8 181.2 126.2 179.8 124.2 180.8 112.8 180.2 110.8 177.8 108.8 165.2 108.8 160.8 114.2 157.8 115.2 146.8 114.8 144.2 112.2 144.8 104.8 142.8 102.8 140.8 102.8 136.2 108.8 134.2 108.8 130.8 103.8 123.8 96.8 105.2 96.8 90.8 111.2 91.2 134.8 83.2 144.2 79.2 145.2 78.8 152.2 79.2 154.2 82.8 156.8 83.8 152.2 86.2 149.8 96.2 149.8 95.8 141.8 98.2 138.8 101.8 136.8 102.2 128.8 105.2 126.2 110.2 125.8 112.8 126.8 114.8 129.2 114.2 140.2 115.2 142.8 120.2 146.2 121.2 150.2 127.8 149.8 133.8 156.2 136.2 156.2 138.8 158.2 139.8 162.2 139.2 171.8 144.2 176.2 144.8 178.8 148.8 177.8 152.8 174.2 159.2 173.8 168.8 164.2 173.2 161.8 176.8 161.8 179.2 162.8 182.8 166.8 184.8 167.8 193.2 166.8 199.2 168.8 203.2 171.8 208.2 189.8 207.8 195.8 204.8 198.8 204.8 201.8 207.2 204.2 208.8 197.8 213.8 192.8 216.2 191.8 224.2 191.8 228.8 193.2 233.8 193.2 239.8 190.8 260.2 191.8 266.2 195.8 275.8 199.2 277.8 200.8 278.8 204.2 282.2 206.2 287.2 203.8 291.2 203.8 296.8 209.2 301.8 210.2 304.2 209.2 307.8 204.8 313.8 203.8 315.2 201.8 316.8 196.2 321.2 193.2 332.8 193.8 338.8 191.8 350.2 191.8 353.2 192.8 356.8 197.2 359.2 198.2 371.2 196.8 379.8 197.2 382.8 195.2 382.2 193.8 379.8 192.8 369.8 192.8 366.2 190.2 365.8 187.8 368.2 185.2 376.2 184.8 391.8 185.8 394.2 184.8 399.2 179.8 419.8 180.2 421.2 175.2 424.2 172.2 435.2 167.8 461.8 168.2 462.8 164.2 468.2 159.8 468.8 152.2 474.2 147.8 474.8 140.2 486.2 129.8ZM297.8 150.2 298.8 149.2 301.2 149.2 302.2 150.8 301.2 151.8 298.8 151.8ZM243.8 149.2 243.8 144.2 246.2 140.2 245.8 134.8 248.2 131.8 253.8 132.2 260.8 135.8 266.2 136.8 269.2 138.8 267.8 140.2 254.2 144.2 251.2 150.8 248.8 152.8 245.8 152.2Z"/><path fill="#00ffd5" d="M298.8 202.2 297.8 203.2 298.2 205.8 299.2 206.8 301.8 206.8 302.8 205.8 302.8 203.2 301.8 202.2ZM359.2 189.2 358.2 190.2 358.8 193.8 360.2 194.8 362.8 194.2 363.2 193.2 362.2 191.2ZM252.8 127.2 252.2 126.8 251.8 127.8ZM486.2 117.2 484.2 114.8 481.8 114.2 466.8 114.2 463.8 116.2 461.2 120.2 457.8 120.2 455.2 116.2 450.8 112.8 450.2 105.2 444.8 100.8 443.8 92.2 441.2 90.8 436.8 85.2 434.2 84.2 418.8 84.2 416.2 85.2 414.2 88.8 411.8 90.8 404.2 91.2 402.2 94.8 399.8 96.8 387.2 96.8 384.2 94.2 383.8 92.2 384.8 85.2 383.8 80.2 382.2 78.8 375.2 78.8 370.8 72.8 368.8 72.8 364.2 78.8 362.2 78.8 359.2 74.2 356.2 72.2 345.2 72.8 337.8 80.2 335.2 84.2 332.8 84.8 330.2 82.8 327.8 78.8 320.8 78.8 318.8 76.8 317.8 73.8 318.8 67.8 318.2 63.2 312.2 57.8 310.8 55.2 308.2 54.2 287.2 54.2 284.2 55.2 280.8 60.2 272.8 60.8 271.2 62.2 270.2 65.2 271.2 71.8 270.8 75.8 268.8 78.2 265.2 80.2 264.2 88.8 253.2 98.2 252.8 105.8 249.8 108.8 243.2 108.8 239.2 103.8 234.8 100.8 231.8 96.8 226.8 96.2 224.2 97.2 222.8 99.2 222.2 106.8 211.2 116.2 210.8 124.2 208.2 126.8 195.2 126.8 190.8 120.8 188.8 120.8 184.2 126.8 182.2 126.8 179.8 124.2 180.8 112.8 180.2 110.8 177.8 108.8 165.2 108.8 160.8 114.2 157.8 115.2 146.8 114.8 144.2 112.2 144.8 104.8 142.8 102.8 140.8 102.8 136.2 108.8 134.2 108.8 130.8 103.8 123.8 96.8 106.8 96.2 104.2 97.2 102.8 99.8 91.2 110.2 90.2 112.8 91.2 134.8 83.2 144.2 79.2 145.8 84.2 147.2 96.2 147.2 95.8 141.8 98.2 138.8 101.8 136.8 102.2 128.8 105.2 126.2 110.2 125.8 112.8 126.8 114.8 129.2 114.2 140.2 122.2 142.2 124.2 145.8 128.8 147.2 130.8 149.2 133.2 154.2 138.8 158.2 139.2 163.2 142.2 164.8 144.8 167.8 144.2 169.8 140.2 173.2 144.8 177.2 147.2 176.2 148.2 173.2 147.8 171.8 148.8 170.2 158.2 171.2 171.2 159.8 173.2 158.8 179.2 158.8 182.2 159.8 184.2 161.8 185.2 164.8 192.8 164.8 201.8 169.2 203.8 171.2 206.8 182.8 210.2 190.8 213.8 189.2 215.2 182.2 218.8 179.8 219.8 181.2 219.2 187.2 229.2 191.8 233.2 191.8 239.2 189.2 250.8 189.2 256.8 187.8 263.2 190.8 267.8 195.2 275.2 197.8 281.8 201.8 283.2 201.8 285.8 199.8 285.8 197.8 287.8 195.2 307.8 195.2 309.8 196.8 309.2 200.2 310.2 201.2 312.8 201.2 313.2 196.2 321.2 190.8 326.8 192.2 333.8 192.2 345.2 187.8 346.2 184.8 352.8 180.2 351.2 173.2 353.2 171.2 356.2 171.2 362.2 177.8 363.8 182.2 365.8 183.2 375.2 183.2 380.8 182.2 390.8 182.8 392.8 180.8 391.8 178.2 384.2 179.2 382.8 177.8 382.8 171.2 381.8 167.2 384.2 165.2 389.8 164.8 392.8 166.8 392.2 173.8 394.2 176.8 406.8 176.2 410.2 177.2 416.2 177.2 423.2 171.2 436.2 165.2 443.2 165.2 447.8 164.2 448.2 160.8 449.8 159.2 468.2 159.8 468.2 153.2 470.2 150.8 473.8 148.8 474.8 140.2 486.2 129.8ZM329.8 146.8 332.8 147.8 334.2 150.2 333.8 152.2 330.2 155.8 328.2 154.8 326.8 151.2 324.8 149.2 326.2 147.8ZM304.2 149.2 304.8 151.8 302.8 153.2 292.2 153.8 289.8 160.8 287.8 160.2 285.8 157.8 286.8 148.2 287.8 147.2 301.2 146.8ZM316.2 144.8 318.8 145.2 321.8 148.2 318.2 148.2 316.2 146.2ZM244.2 124.2 246.8 122.8 251.2 124.2 257.2 122.8 259.8 123.2 261.8 125.2 261.8 127.8 259.2 131.8 261.8 134.2 267.2 135.2 273.2 138.8 273.2 140.2 256.8 143.8 253.8 145.8 250.8 152.2 249.2 153.2 245.2 152.8 242.8 148.2 242.8 138.2 244.2 131.8Z"/><path fill="#00ff99" d="M486.2 117.2 484.2 114.8 481.8 114.2 466.8 114.2 463.8 116.2 461.2 120.2 457.8 120.2 455.2 116.2 450.8 112.8 450.2 105.2 444.8 100.8 443.8 92.2 441.2 90.8 436.8 85.2 434.2 84.2 418.8 84.2 416.2 85.2 414.2 88.8 411.8 90.8 404.2 91.2 402.2 94.8 399.8 96.8 387.2 96.8 384.2 94.2 383.8 92.2 384.8 85.2 383.8 80.2 382.2 78.8 375.2 78.8 370.8 72.8 368.8 72.8 364.2 78.8 362.2 78.8 359.2 74.2 356.2 72.2 345.2 72.8 337.8 80.2 335.2 84.2 332.8 84.8 330.2 82.8 327.8 78.8 320.8 78.8 318.8 76.8 317.8 73.8 318.8 67.8 318.2 63.2 312.2 57.8 310.8 55.2 308.2 54.2 287.2 54.2 284.2 55.2 280.8 60.2 272.8 60.8 271.2 62.2 270.2 65.2 271.2 71.8 270.8 75.8 268.8 78.2 265.2 80.2 264.2 88.8 253.2 98.2 252.8 105.8 249.8 108.8 243.2 108.8 239.2 103.8 234.8 100.8 231.8 96.8 226.8 96.2 224.2 97.2 222.8 99.2 222.2 106.8 211.2 116.2 210.8 124.2 208.2 126.8 195.2 126.8 190.8 120.8 188.8 120.8 184.2 126.8 182.2 126.8 179.8 124.2 180.8 112.8 180.2 110.8 177.8 108.8 165.2 108.8 160.8 114.2 157.8 115.2 146.8 114.8 144.2 112.2 144.8 104.8 142.8 102.8 140.8 102.8 136.2 108.8 134.2 108.8 130.8 103.8 123.8 96.8 106.8 96.2 104.2 97.2 102.8 99.8 90.8 111.2 91.2 134.8 90.2 136.8 86.8 139.2 84.2 143.8 88.2 145.2 95.8 144.8 96.2 140.8 102.2 135.8 102.2 128.8 105.2 126.2 110.2 125.8 112.8 126.8 114.8 129.2 114.2 137.8 121.8 138.2 124.2 139.2 131.8 146.8 133.8 152.8 138.8 158.2 139.8 161.2 142.2 161.8 145.8 159.2 147.8 159.2 149.8 162.2 150.8 166.2 154.2 168.8 158.2 168.8 160.2 167.8 170.8 156.8 172.8 155.8 177.2 155.8 184.8 158.2 188.8 162.2 192.2 163.2 202.2 168.8 204.8 171.8 207.2 181.8 210.2 185.8 215.8 177.8 219.2 175.2 222.8 178.2 222.2 183.2 223.2 185.8 229.8 190.2 233.2 190.2 238.2 188.2 247.8 187.8 250.8 186.2 254.2 181.8 256.8 181.8 269.2 194.8 275.8 197.2 280.8 197.8 284.2 193.2 286.8 192.2 313.8 192.2 315.8 191.8 320.8 187.8 328.2 191.2 334.2 190.8 339.8 187.2 348.2 178.2 348.8 171.2 351.8 168.8 356.8 168.8 358.8 169.8 367.2 181.2 373.2 181.8 376.2 180.8 379.2 176.2 380.2 172.8 379.2 165.2 381.8 163.2 392.2 162.8 394.8 165.8 396.2 172.2 398.2 173.8 400.2 173.8 404.8 170.2 406.8 169.8 410.2 174.2 414.8 175.2 435.8 163.2 441.8 162.8 443.8 161.8 445.2 158.2 448.2 156.2 468.2 156.2 468.8 152.2 474.2 147.8 474.8 140.2 486.2 129.8ZM334.2 164.8 334.8 164.2 335.2 165.2 334.8 165.8ZM379.2 151.8 382.2 149.8 386.8 149.8 389.8 151.8 389.8 153.8 386.8 156.2 381.8 156.2 379.2 154.2ZM284.2 146.2 287.2 144.2 301.2 144.8 304.8 147.2 306.8 152.2 303.2 154.2 294.2 154.8 292.2 156.8 291.2 162.2 289.8 162.8 284.8 158.2 285.2 151.8ZM307.2 139.8 308.8 138.2 311.8 137.8 316.2 139.2 318.8 142.2 323.2 144.8 333.8 144.8 336.2 147.2 336.8 152.2 332.2 158.2 329.2 160.2 323.2 152.2 315.8 149.2 311.8 144.2 307.2 141.2ZM241.8 121.8 244.2 120.2 261.2 120.8 264.8 124.8 264.2 131.8 275.2 137.8 276.2 140.2 274.2 141.8 265.2 142.2 256.8 144.2 253.8 146.8 252.2 151.2 250.2 153.2 244.8 153.2 242.2 149.2 240.2 142.2 240.2 136.8 242.2 131.8 241.2 125.8Z"/><path fill="#2cff61" d="M486.8 127.2 486.2 117.2 484.2 114.8 466.8 114.2 463.8 116.2 461.2 120.2 457.8 120.2 455.2 116.2 450.8 112.8 450.2 105.2 444.8 100.8 443.8 92.2 441.2 90.8 435.8 84.8 418.8 84.2 416.2 85.2 414.2 88.8 411.8 90.8 404.2 91.2 402.2 94.8 399.8 96.8 387.2 96.8 384.2 94.2 383.8 92.2 384.8 85.2 383.8 80.2 382.2 78.8 375.2 78.8 370.8 72.8 368.8 72.8 364.2 78.8 362.2 78.8 359.2 74.2 356.2 72.2 345.2 72.8 337.8 80.2 335.2 84.2 332.8 84.8 330.2 82.8 327.8 78.8 320.8 78.8 318.8 76.8 317.8 73.8 318.8 67.8 318.2 63.2 312.2 57.8 310.8 55.2 308.2 54.2 287.2 54.2 284.2 55.2 280.8 60.2 272.8 60.8 271.2 62.2 270.2 65.2 271.2 71.8 270.8 75.8 268.8 78.2 265.2 80.2 264.2 88.8 253.2 98.2 252.8 105.8 249.8 108.8 243.2 108.8 239.2 103.8 234.8 100.8 231.8 96.8 226.8 96.2 224.2 97.2 222.8 99.2 222.2 106.8 211.2 116.2 210.8 124.2 208.2 126.8 195.2 126.8 190.8 120.8 188.8 120.8 184.2 126.8 182.2 126.8 179.8 124.2 180.8 112.8 180.2 110.8 177.8 108.8 165.2 108.8 160.8 114.2 157.8 115.2 146.8 114.8 144.2 112.2 144.8 104.8 142.8 102.8 140.8 102.8 136.2 108.8 134.2 108.8 130.8 103.8 123.8 96.8 106.8 96.2 104.2 97.2 102.8 99.8 90.8 111.2 91.2 134.8 90.2 136.8 86.8 139.2 85.8 141.8 88.2 142.8 95.8 142.2 96.2 140.8 102.2 135.8 102.2 128.8 105.2 126.2 110.2 125.8 112.8 126.8 114.8 129.2 114.8 135.8 123.2 136.2 125.2 137.2 129.2 142.2 134.8 146.8 135.8 152.8 141.2 157.8 145.2 155.2 147.8 155.8 149.8 157.8 152.2 164.2 154.2 166.2 157.2 166.8 159.8 165.8 170.2 154.8 173.8 153.8 177.8 154.2 186.2 157.2 190.2 161.2 203.2 168.8 205.2 171.2 207.8 180.2 209.2 182.2 210.8 182.2 212.2 180.8 216.2 172.8 218.8 171.8 221.8 172.8 224.2 175.2 224.8 183.2 226.8 186.2 230.2 188.8 246.8 186.8 250.2 183.8 252.2 180.2 253.8 179.2 257.2 179.2 261.8 185.2 270.2 193.8 274.8 195.8 278.8 195.8 283.2 190.2 313.8 190.2 320.2 185.2 323.8 186.2 328.2 189.8 332.8 189.8 335.8 187.8 341.2 180.2 345.8 177.2 346.8 168.8 350.2 166.2 357.2 166.2 360.8 167.8 366.2 177.8 369.2 180.2 372.8 180.2 376.2 177.8 378.2 173.8 378.2 169.8 375.8 163.2 381.2 160.8 393.8 160.8 395.8 162.8 396.8 168.2 398.8 170.8 400.8 170.8 406.2 166.8 408.8 166.2 410.8 168.2 412.8 172.8 415.8 172.8 428.8 166.2 434.8 161.2 441.2 159.8 443.8 154.8 468.2 154.2 468.8 152.2 474.2 147.8 474.8 140.2 485.8 130.8ZM376.2 150.8 377.8 148.8 381.2 147.8 389.8 148.2 393.2 150.2 393.2 153.2 388.8 158.2 381.8 158.8 377.2 156.2 376.2 154.2ZM282.2 144.2 285.2 142.2 301.8 142.8 303.8 141.8 304.8 137.8 308.8 135.8 317.8 136.8 322.8 142.2 336.2 142.2 338.8 145.2 339.8 151.2 338.8 154.2 335.2 157.2 334.2 159.8 338.8 162.2 339.8 164.2 336.2 168.8 334.2 169.2 332.2 167.2 330.8 163.2 326.8 159.8 324.8 155.8 322.2 153.2 315.2 150.8 311.2 145.8 306.2 144.8 306.2 147.2 308.8 152.2 305.2 154.8 294.8 155.8 292.8 158.8 292.8 163.2 291.8 164.8 290.2 164.8 284.2 158.8 284.2 152.2 282.2 147.2ZM228.8 130.2 231.8 132.8 230.2 134.8 228.2 134.8 226.8 133.2 226.8 131.8ZM311.8 125.8 312.8 125.2 313.8 126.8 312.2 127.2ZM214.2 125.2 215.8 124.2 218.2 124.2 220.2 125.8 220.2 127.2 218.2 128.8 216.2 128.8 214.2 127.2ZM260.8 118.2 266.2 122.8 267.8 130.2 272.8 134.8 277.8 136.8 279.8 139.8 277.2 142.2 265.2 142.8 257.8 144.2 254.2 146.8 252.8 151.2 250.2 153.8 245.2 154.2 242.8 151.8 238.2 140.8 237.8 136.8 240.2 132.2 240.8 129.2 237.8 121.2 241.8 118.2Z"/><path fill="#61ff2c" d="M372.8 166.8 369.2 167.2 365.8 169.8 366.2 174.2 367.8 177.2 369.8 178.8 373.2 178.2 376.8 173.2 376.2 169.2ZM399.2 162.2 398.2 163.2 398.2 166.8 399.2 168.2 401.2 168.2 403.2 166.8 404.2 163.8 402.2 162.2ZM309.2 147.2 309.2 148.8 310.8 149.2ZM233.8 125.8 232.2 127.8 233.2 130.2 235.8 132.8 237.8 132.2 238.8 130.8 238.8 128.2 237.2 126.2ZM486.8 127.2 486.2 117.2 484.2 114.8 466.8 114.2 463.8 116.2 461.2 120.2 457.8 120.2 455.2 116.2 450.8 112.8 450.2 105.2 444.8 100.8 443.8 92.2 441.2 90.8 435.8 84.8 418.8 84.2 416.2 85.2 414.2 88.8 411.8 90.8 404.2 91.2 402.2 94.8 399.8 96.8 387.2 96.8 384.2 94.2 383.8 92.2 384.8 85.2 383.8 80.2 382.2 78.8 375.2 78.8 370.8 72.8 368.8 72.8 364.2 78.8 362.2 78.8 359.2 74.2 356.2 72.2 345.2 72.8 337.8 80.2 335.2 84.2 332.8 84.8 330.2 82.8 327.8 78.8 320.8 78.8 318.8 76.8 317.8 73.8 318.8 67.8 318.2 63.2 312.2 57.8 310.8 55.2 308.2 54.2 287.2 54.2 284.2 55.2 280.8 60.2 272.8 60.8 271.2 62.2 270.2 65.2 271.2 71.8 270.8 75.8 268.8 78.2 265.2 80.2 264.2 88.8 253.2 98.2 252.8 105.8 250.8 108.2 248.2 109.2 243.2 108.8 239.2 103.8 234.8 100.8 231.8 96.8 225.2 96.8 222.8 99.2 222.2 106.8 211.2 116.2 210.8 124.2 208.2 126.8 195.2 126.8 190.8 120.8 188.8 120.8 184.2 126.8 181.2 126.2 179.8 124.2 180.8 112.8 180.2 110.8 177.8 108.8 165.2 108.8 160.8 114.2 157.8 115.2 146.8 114.8 144.2 112.2 144.8 104.8 142.8 102.8 140.8 102.8 136.2 108.8 134.2 108.8 130.8 103.8 123.8 96.8 106.8 96.2 104.2 97.2 102.8 99.8 90.8 111.2 91.2 134.8 88.8 138.2 90.8 139.2 97.2 139.8 100.8 137.8 102.2 135.8 102.2 128.8 105.2 126.2 110.2 125.8 114.2 128.2 114.8 133.8 124.2 134.2 131.2 141.8 138.8 145.2 145.8 145.8 153.2 141.8 154.2 143.2 154.2 146.8 149.8 152.2 149.8 153.8 153.2 162.2 155.8 164.2 159.8 163.2 168.2 154.2 172.2 152.8 176.8 152.8 187.8 156.8 198.8 165.8 203.2 167.8 205.2 169.8 207.8 177.8 209.2 179.8 211.8 178.8 213.8 173.8 211.8 166.2 212.2 164.8 222.8 164.2 225.2 165.2 226.8 167.8 226.2 179.2 226.8 182.2 229.8 186.2 233.2 187.2 245.8 185.8 253.2 177.2 257.2 176.8 260.8 180.2 262.8 184.2 271.8 192.8 276.2 193.8 278.2 189.8 282.2 187.2 312.8 188.8 319.8 183.2 322.2 183.2 327.2 187.2 330.8 188.2 332.8 186.8 331.2 180.2 331.8 177.2 334.8 174.2 342.2 175.8 343.8 174.2 343.2 168.2 340.8 167.8 334.2 172.2 331.8 169.8 329.8 164.2 325.8 159.8 323.2 155.2 319.8 153.2 311.8 151.8 309.2 154.2 306.8 155.2 297.2 155.8 294.8 156.8 293.2 160.2 293.2 165.2 291.2 166.8 284.2 160.2 283.2 158.2 283.2 151.8 279.8 144.2 277.2 143.2 264.8 143.2 257.8 144.8 255.2 146.2 252.8 152.2 249.2 154.8 245.2 154.8 242.2 152.2 238.8 146.2 236.8 138.8 234.8 136.2 227.2 136.2 222.8 130.8 215.8 130.2 212.2 128.2 211.2 124.2 215.2 121.2 218.8 116.8 221.8 115.2 230.8 115.8 237.8 111.2 242.8 115.8 261.2 116.2 268.2 121.8 270.8 126.2 274.2 129.2 276.8 133.2 281.2 132.2 284.8 129.2 288.2 124.2 291.8 123.2 294.8 126.8 293.8 128.8 288.8 132.8 286.8 137.8 289.2 139.8 292.2 140.2 299.8 139.2 303.8 133.8 307.8 131.8 308.2 122.8 309.8 121.8 312.8 121.8 316.2 124.2 317.8 130.8 322.8 135.2 325.2 139.2 338.2 139.8 341.8 145.2 346.8 147.2 350.2 150.8 352.8 155.2 361.8 162.2 365.8 161.8 373.2 155.2 373.8 147.8 375.2 145.8 398.2 145.2 400.8 147.2 401.8 152.8 406.2 161.2 411.2 164.2 415.2 169.2 417.8 169.2 428.8 164.8 441.2 152.8 445.8 151.8 469.2 151.8 472.8 149.8 474.2 147.8 474.8 140.2 485.8 130.8Z"/><path fill="#99ff00" d="M373.8 169.8 370.8 169.8 368.2 171.8 368.2 174.2 369.8 176.8 372.2 176.8 374.2 174.8 374.8 170.8ZM90.2 112.8 91.2 130.8 90.8 135.8 100.8 137.8 102.2 135.8 102.2 128.8 105.2 126.2 110.2 125.8 114.2 128.2 114.8 131.8 122.2 130.8 125.2 132.2 132.2 140.8 136.2 142.2 146.2 142.8 151.2 137.2 154.8 136.8 156.2 138.2 156.2 146.8 152.8 152.8 152.8 156.8 155.2 161.2 157.2 161.8 159.2 160.8 168.2 152.8 172.2 151.8 179.2 152.2 188.2 155.8 199.2 165.2 204.8 167.8 206.8 170.2 209.2 177.2 210.2 177.2 211.8 175.2 211.8 170.8 208.8 165.2 211.2 161.8 214.2 161.2 218.2 162.8 225.2 163.2 228.2 166.2 228.2 180.2 229.8 183.2 232.2 185.2 244.2 185.2 247.8 182.8 249.2 179.2 253.2 175.2 256.8 174.2 261.8 179.2 264.8 184.8 272.2 189.8 275.2 189.2 281.2 184.8 301.2 184.8 306.2 186.8 311.8 187.2 319.8 181.2 323.2 181.2 327.8 182.8 328.2 178.8 330.8 173.2 329.8 166.2 323.8 157.2 321.8 155.2 315.8 153.2 312.2 153.8 308.2 155.8 296.2 156.8 294.2 159.2 294.2 165.8 292.2 167.8 290.2 167.8 282.8 158.8 282.8 153.2 279.8 146.2 275.2 143.8 264.2 143.8 258.8 144.8 254.8 147.8 253.2 152.2 249.2 155.2 244.8 155.2 241.8 152.8 237.2 146.2 236.2 140.8 234.2 137.8 226.2 137.2 221.8 131.8 212.2 130.2 209.8 125.8 208.2 126.8 196.8 127.2 193.2 124.8 190.8 120.8 188.8 120.8 184.2 126.8 181.2 126.2 179.8 124.2 179.8 121.8 178.2 121.8 176.8 120.2 177.8 119.2 179.8 119.2 180.8 115.8 180.2 110.8 177.8 108.8 165.2 108.8 160.8 114.2 157.8 115.2 146.8 114.8 144.2 112.2 144.8 104.8 142.8 102.8 140.8 102.8 136.2 108.8 134.2 108.8 130.8 103.8 123.8 96.8 106.8 96.2 104.2 97.2 102.8 99.8 91.2 110.2ZM210.8 117.2 211.2 119.8 217.8 113.2 228.8 113.2 231.2 112.2 235.2 107.8 239.8 107.2 241.8 108.8 243.2 112.2 246.2 113.8 260.8 113.2 263.8 114.2 278.2 129.2 281.8 128.8 287.2 122.8 289.2 121.8 294.8 122.2 297.2 124.8 297.2 127.8 291.2 134.8 291.2 136.8 292.8 137.8 296.8 137.2 304.2 129.8 304.8 120.8 306.8 118.8 309.2 118.8 316.8 122.2 320.8 130.2 327.8 136.8 333.2 137.2 336.2 136.2 339.2 137.2 343.2 143.8 348.8 145.8 351.8 149.2 354.2 154.2 361.8 159.2 365.8 158.8 370.8 153.8 370.8 144.8 372.8 142.8 389.8 143.2 397.2 142.2 400.2 143.2 403.8 146.8 404.2 153.2 407.2 159.2 417.2 166.2 422.2 166.2 426.8 164.2 433.8 156.2 438.8 151.8 448.8 148.8 468.8 148.8 472.8 149.8 474.2 147.8 474.8 140.2 485.8 130.8 486.8 127.8 486.2 117.2 484.2 114.8 466.8 114.2 463.8 116.2 461.2 120.2 457.8 120.2 455.2 116.2 450.8 112.8 450.2 105.2 444.8 100.8 443.8 92.2 441.2 90.8 435.8 84.8 418.8 84.2 416.2 85.2 414.2 88.8 411.8 90.8 404.2 91.2 402.2 94.8 399.8 96.8 387.2 96.8 384.2 94.2 383.8 89.8 384.8 83.2 382.2 78.8 375.2 78.8 370.8 72.8 368.8 72.8 364.2 78.8 362.2 78.8 359.2 74.2 356.2 72.2 344.2 73.2 342.8 75.8 337.8 80.2 336.2 83.2 332.8 84.8 330.2 82.8 327.8 78.8 320.8 78.8 318.8 76.8 317.8 73.8 318.8 67.8 318.2 63.2 312.2 57.8 310.8 55.2 308.2 54.2 287.2 54.2 284.2 55.2 282.2 58.8 279.8 60.8 272.8 60.8 270.2 65.2 271.2 71.8 270.8 75.8 268.8 78.2 265.2 80.2 264.2 88.8 253.2 98.2 252.8 105.8 250.8 108.2 248.2 109.2 243.2 108.8 239.2 103.8 234.8 100.8 231.8 96.8 226.8 96.2 224.2 97.2 222.8 99.2 222.2 106.8Z"/><path fill="#d4ff00" d="M208.8 170.8 208.8 173.2 209.8 173.8 209.8 171.2ZM90.2 112.8 91.2 133.8 102.2 134.2 102.2 128.8 106.8 125.8 111.8 126.2 114.8 129.2 120.2 127.2 124.2 128.8 127.8 131.8 131.8 138.8 135.8 140.8 142.8 139.8 148.2 134.2 157.2 133.8 159.2 136.2 157.8 140.8 157.2 149.2 154.8 153.8 154.8 156.2 156.2 158.2 158.8 158.2 163.8 153.8 169.2 151.2 179.2 151.2 188.8 154.8 199.8 164.8 203.2 166.2 206.2 166.2 207.8 162.8 211.8 159.2 214.8 159.2 220.8 161.8 227.2 162.2 229.8 165.8 229.8 179.2 233.2 183.8 236.8 184.8 242.8 184.8 245.2 183.8 249.8 176.8 254.2 172.8 256.2 172.2 261.8 177.2 266.8 184.8 271.8 187.2 275.2 186.2 277.2 184.2 277.2 178.8 278.8 177.8 280.8 178.2 284.2 181.8 291.2 182.2 300.8 181.2 307.8 185.2 310.8 185.8 317.2 180.2 325.2 178.8 329.2 171.8 329.2 167.8 328.2 165.2 323.2 157.8 318.8 154.8 313.2 154.8 306.8 156.8 296.8 157.2 294.8 159.8 294.8 166.8 292.8 168.8 290.2 169.2 282.2 159.2 282.2 154.8 280.2 148.8 277.2 145.2 274.8 144.2 263.8 144.2 258.8 145.2 255.2 147.8 252.2 154.2 249.2 155.8 244.2 155.8 235.8 146.8 235.2 140.8 233.8 138.8 225.8 138.2 220.2 132.2 211.2 131.2 208.8 126.8 196.8 127.2 193.2 124.8 190.8 120.8 188.8 120.8 184.2 126.8 181.2 126.2 179.8 123.8 174.8 122.8 172.2 120.2 171.8 117.8 172.2 116.2 176.2 112.8 177.2 108.8 165.2 108.8 160.8 114.2 157.8 115.2 146.8 114.8 144.2 112.2 144.8 104.8 142.8 102.8 140.8 102.8 136.2 108.8 134.2 108.8 130.8 103.8 123.8 96.8 106.8 96.2 104.2 97.2 102.8 99.8 91.2 110.2ZM252.8 99.2 252.8 103.8 259.8 103.8 261.8 104.8 274.2 117.8 274.8 122.8 275.8 124.8 278.8 126.8 281.8 126.2 285.2 122.2 288.8 120.2 299.8 121.2 303.8 116.2 308.8 116.2 317.2 120.8 319.8 123.8 321.2 127.8 325.8 132.2 330.8 133.2 334.2 130.8 341.8 136.8 343.2 141.2 344.8 142.8 348.2 143.2 351.8 142.2 352.8 143.2 352.8 146.2 354.8 152.2 357.2 155.2 361.8 157.2 364.8 156.8 367.8 153.8 367.8 142.8 370.2 140.2 398.8 140.2 401.2 141.2 406.2 146.2 406.8 149.8 405.8 152.8 407.8 157.8 411.8 161.2 418.2 164.2 424.2 163.8 436.2 151.2 444.2 148.8 449.8 145.8 474.2 146.2 474.8 140.2 485.8 130.8 486.8 127.8 486.2 117.2 484.2 114.8 466.8 114.2 463.8 116.2 461.2 120.2 457.8 120.2 455.2 116.2 450.8 112.8 450.2 105.2 444.8 100.8 443.8 92.2 441.2 90.8 435.8 84.8 418.8 84.2 416.2 85.2 414.2 88.8 411.8 90.8 404.2 91.2 402.2 94.8 399.8 96.8 387.2 96.8 384.2 94.2 383.8 89.8 384.8 83.2 382.2 78.8 375.2 78.8 370.8 72.8 368.8 72.8 364.2 78.8 362.2 78.8 359.2 74.2 356.2 72.2 344.2 73.2 342.8 75.8 337.8 80.2 336.2 83.2 332.8 84.8 330.2 82.8 327.8 78.8 320.8 78.8 318.8 76.8 317.8 73.8 318.8 67.8 318.2 63.2 312.2 57.8 310.8 55.2 308.2 54.2 287.2 54.2 284.2 55.2 282.2 58.8 279.8 60.8 272.8 60.8 270.2 65.2 271.2 74.2 270.2 76.8 264.8 81.2 264.2 88.8Z"/><path fill="#ffff00" d="M90.2 112.8 91.2 131.2 100.8 131.8 102.2 131.2 102.2 128.8 105.2 126.2 110.2 125.8 113.2 127.2 118.2 124.8 121.8 124.8 124.8 126.2 129.2 130.8 131.8 136.8 135.2 139.2 139.8 138.8 147.8 131.8 158.2 131.2 161.2 134.8 158.8 141.8 158.2 153.8 159.2 154.2 163.8 151.8 169.8 150.2 181.2 150.8 189.8 154.2 200.2 164.2 202.8 165.2 204.8 164.8 210.2 158.2 213.2 156.8 215.8 156.8 220.8 160.2 227.8 160.2 230.2 162.2 231.2 165.8 231.2 178.8 233.2 181.8 237.2 183.8 242.8 183.8 244.8 182.8 247.2 178.2 254.2 171.2 257.8 171.8 263.8 178.2 265.2 181.2 269.8 184.8 273.2 184.8 274.2 183.8 274.2 179.2 277.8 175.8 282.2 175.8 285.2 178.8 287.8 179.8 292.8 178.8 303.2 178.8 308.8 183.2 310.8 183.2 315.2 178.8 323.8 177.2 327.2 173.2 328.2 170.2 327.8 166.2 322.8 158.2 319.2 155.8 315.8 155.2 308.2 157.2 297.2 157.8 295.8 159.2 295.8 166.2 293.2 169.8 289.8 170.8 285.8 163.8 281.8 159.8 281.2 152.8 279.8 149.2 276.8 145.8 274.2 144.8 262.8 144.8 258.2 145.8 255.8 147.8 254.2 152.8 251.8 155.2 249.2 156.2 243.8 156.2 237.2 149.8 234.2 148.2 234.2 141.2 233.2 139.8 225.8 139.8 219.2 132.8 210.2 132.8 208.2 131.2 207.2 126.8 195.2 126.8 190.8 120.8 188.8 120.8 184.2 126.8 182.2 126.8 180.2 124.8 173.2 123.8 170.2 119.2 170.2 114.8 172.2 112.2 173.2 108.8 165.2 108.8 160.8 114.2 157.8 115.2 146.8 114.8 144.2 112.2 144.8 104.8 143.8 103.2 140.8 102.8 136.2 108.8 134.2 108.8 125.2 97.8 122.2 96.2 106.8 96.2 104.2 97.2 102.8 99.8 91.2 110.2ZM151.2 119.2 155.2 118.8 157.8 120.8 157.8 125.2 154.8 127.8 152.2 127.2 149.2 124.2 148.8 121.8ZM252.8 99.2 252.8 101.2 259.2 100.8 263.2 101.8 271.8 110.2 272.8 112.2 277.2 115.8 278.2 118.2 277.8 122.2 279.2 123.8 281.2 123.2 287.2 118.8 297.2 118.8 301.8 113.8 307.8 113.2 310.8 114.2 318.8 119.8 323.8 127.8 326.8 129.8 327.8 129.8 331.8 125.2 336.2 125.8 339.2 130.8 343.8 134.8 345.2 140.2 347.2 140.8 352.8 137.8 355.8 139.8 356.8 142.2 355.8 147.8 356.2 151.2 358.8 154.2 361.2 155.2 364.2 154.2 365.2 152.8 365.8 149.8 364.8 146.8 364.8 141.8 367.2 138.2 370.8 137.2 380.2 137.8 385.2 136.8 394.2 136.8 401.2 138.2 409.2 146.8 407.2 154.2 410.2 158.8 416.2 161.2 422.2 161.8 428.2 155.2 437.8 148.2 442.8 147.2 447.2 143.8 452.2 142.8 474.2 143.2 474.8 140.2 485.8 130.8 486.8 127.8 486.2 117.2 484.2 114.8 466.8 114.2 463.8 116.2 461.2 120.2 457.8 120.2 455.2 116.2 450.8 112.8 450.2 105.2 444.8 100.8 443.8 92.2 441.2 90.8 435.8 84.8 418.8 84.2 416.2 85.2 414.2 88.8 411.8 90.8 404.2 91.2 402.2 94.8 399.8 96.8 387.2 96.8 384.2 94.2 383.8 89.8 384.8 83.2 382.2 78.8 375.2 78.8 370.8 72.8 368.8 72.8 364.2 78.8 362.2 78.8 359.2 74.2 356.2 72.2 344.2 73.2 342.8 75.8 337.8 80.2 336.2 83.2 332.8 84.8 330.2 82.8 327.8 78.8 320.8 78.8 318.8 76.8 317.8 73.8 318.8 67.8 318.2 63.2 312.2 57.8 310.8 55.2 308.2 54.2 287.2 54.2 284.2 55.2 282.2 58.8 279.8 60.8 272.8 60.8 270.2 65.2 271.2 74.2 270.2 76.8 264.8 81.2 264.2 88.8ZM293.8 82.8 296.2 84.2 295.2 86.2 293.2 86.2 292.2 85.2Z"/><path fill="#ffdb00" d="M326.8 166.8 321.8 158.2 319.8 156.8 315.2 156.2 310.2 157.8 299.8 157.8 296.8 159.2 296.2 167.2 295.2 169.2 290.8 173.2 290.2 175.2 295.2 176.8 320.2 176.8 323.8 175.2 326.2 172.2ZM278.2 148.2 275.8 145.8 271.2 144.8 259.8 145.8 256.8 147.2 254.8 152.8 252.8 155.2 246.2 157.2 241.8 156.2 238.8 152.2 236.2 150.8 233.2 151.2 230.8 155.8 232.2 160.8 232.2 176.8 233.2 179.2 237.8 182.8 242.2 182.8 253.2 170.8 256.8 170.2 261.2 173.8 267.8 181.8 271.2 182.2 273.2 177.2 275.2 175.2 282.8 173.8 286.8 169.8 285.8 164.8 280.8 159.8 280.8 153.8ZM159.2 114.8 160.2 121.2 159.8 129.2 162.8 133.8 159.8 141.8 159.8 145.2 160.8 148.8 162.2 150.2 171.8 149.2 181.2 149.8 190.8 153.8 199.2 162.2 201.8 163.8 203.8 163.8 205.8 160.8 212.8 154.2 214.2 151.2 215.2 150.8 218.8 152.2 222.2 152.2 226.8 146.8 231.2 146.2 233.2 144.2 233.2 141.8 231.8 140.2 228.2 140.2 226.2 141.2 224.2 140.8 220.8 134.8 219.2 133.8 213.8 133.2 207.8 134.8 203.8 130.2 197.8 130.8 195.2 128.8 193.2 124.2 187.2 124.8 184.2 126.8 182.2 126.8 180.2 125.2 172.2 124.8 169.2 120.8 168.2 114.8 166.8 112.8 162.2 112.2ZM91.2 110.2 90.2 112.8 90.8 122.8 122.8 122.8 129.8 128.8 132.8 136.2 134.8 137.8 139.2 137.2 146.8 129.8 146.8 127.2 142.8 123.8 142.8 122.2 150.8 114.8 146.8 114.8 144.8 113.2 144.8 104.8 143.8 103.2 140.8 102.8 136.2 108.8 134.2 108.8 125.2 97.8 122.2 96.2 105.2 96.8 93.8 108.8ZM270.8 63.2 270.2 67.2 271.2 74.2 270.2 76.8 268.2 78.2 274.8 82.2 278.8 87.2 277.2 88.8 270.8 88.8 268.8 90.2 267.8 92.8 267.8 100.8 269.2 103.8 272.2 104.8 277.2 104.2 282.8 109.8 285.8 110.8 297.8 110.8 301.2 109.8 303.2 105.8 306.2 103.8 308.8 104.8 312.2 109.8 320.2 110.8 327.2 117.2 329.8 121.8 335.8 122.8 339.8 120.8 341.8 120.8 344.8 122.8 348.2 127.2 351.8 128.8 379.2 128.2 382.2 130.8 383.8 133.8 386.8 134.8 396.2 134.2 399.8 129.2 401.8 128.2 404.8 128.8 406.8 131.2 406.8 133.8 405.2 137.2 405.8 140.2 411.2 146.2 411.2 148.8 408.8 152.2 408.8 154.8 411.8 158.2 416.2 158.2 418.2 152.8 422.8 149.2 426.8 152.2 431.2 151.2 436.2 146.8 439.8 145.2 441.8 141.2 446.8 136.8 451.2 140.2 456.2 140.2 458.2 139.2 468.8 140.2 470.8 138.8 473.2 134.2 480.8 134.8 486.2 129.8 486.2 117.2 484.2 114.8 466.8 114.2 463.8 116.2 461.2 120.2 457.8 120.2 455.2 116.2 450.8 112.8 450.2 105.2 444.8 100.8 443.8 92.2 441.2 90.8 436.8 85.2 434.2 84.2 418.8 84.2 416.2 85.2 414.2 88.8 411.8 90.8 404.2 91.2 402.2 94.8 399.8 96.8 387.2 96.8 384.2 94.2 383.8 92.2 384.8 85.2 383.8 80.2 382.2 78.8 375.2 78.8 370.8 72.8 368.8 72.8 364.2 78.8 362.2 78.8 359.2 74.2 356.2 72.2 345.2 72.8 334.2 84.8 331.8 84.2 327.8 78.8 320.8 78.8 318.8 76.8 317.8 73.8 318.8 67.8 317.8 62.2 315.2 60.8 310.8 55.2 308.2 54.2 287.2 54.2 284.2 55.2 280.8 60.2 272.8 60.8ZM335.2 110.2 337.8 110.2 339.2 111.2 339.8 114.2 338.8 115.2 334.2 112.2ZM292.2 80.8 295.8 80.2 298.8 82.8 298.8 85.8 297.2 87.8 293.2 88.2 290.2 86.2 289.8 83.8Z"/><path fill="#ffb600" d="M325.8 167.2 321.8 159.8 318.2 157.2 308.8 158.8 298.8 158.8 296.8 161.2 297.2 167.2 294.2 173.2 296.2 174.8 319.8 175.2 322.2 174.2 324.8 171.8ZM277.2 147.8 271.8 145.2 259.2 146.2 256.8 148.2 255.2 153.2 252.8 155.8 246.8 157.8 242.8 157.8 240.8 156.8 237.2 152.8 234.8 152.8 233.8 154.2 233.8 175.2 235.2 179.2 239.2 181.8 243.2 180.8 246.2 175.8 253.8 169.2 258.8 170.2 266.8 178.8 268.8 179.8 270.2 179.2 275.2 173.8 282.8 171.8 285.8 168.8 285.8 166.2 280.2 160.8 279.8 152.8ZM231.8 142.2 229.8 141.2 227.8 143.2 228.8 144.2 230.8 144.2ZM162.8 115.8 161.8 117.8 161.8 127.8 163.8 131.8 163.8 135.8 160.8 141.8 161.2 146.2 162.8 148.2 181.2 148.8 192.8 153.8 200.8 161.8 202.8 162.2 209.8 154.8 210.8 152.8 210.8 147.2 212.2 145.8 214.2 145.8 219.8 149.8 222.8 147.8 223.2 143.2 220.8 136.2 219.2 134.8 213.8 134.2 206.8 137.2 201.8 132.8 196.8 132.8 194.2 131.8 191.2 127.2 170.8 125.8 168.2 122.2 166.8 116.8 164.8 115.2ZM91.2 110.2 90.2 112.8 90.8 120.2 109.8 119.8 123.2 120.8 131.2 128.2 134.2 135.8 136.2 136.8 138.8 135.8 143.8 130.8 144.2 128.8 141.2 125.2 140.8 122.8 146.8 114.8 144.2 112.2 144.8 104.8 142.8 102.8 140.8 102.8 136.2 108.8 134.2 108.8 130.8 103.8 123.8 96.8 106.8 96.2 104.2 97.2 102.8 99.8ZM270.8 63.2 270.2 67.2 271.2 74.2 270.2 76.8 274.8 79.8 281.8 87.2 280.2 90.2 273.2 90.8 270.8 92.8 270.2 99.2 271.2 101.2 273.2 102.2 279.2 102.8 283.8 107.2 287.2 108.8 297.8 108.2 302.8 102.8 306.8 101.8 310.2 103.2 313.8 107.2 321.8 109.2 329.8 116.2 330.2 118.2 332.2 120.2 335.2 120.2 336.2 119.2 336.2 117.2 331.8 113.8 331.2 111.2 334.2 108.2 338.2 108.2 341.8 110.8 342.8 117.8 349.8 125.2 353.2 126.8 381.2 126.2 384.2 128.8 386.2 132.2 389.2 133.2 394.8 132.2 399.8 126.8 405.2 126.8 407.2 127.8 408.8 130.2 408.8 135.8 407.8 137.8 408.2 141.2 413.2 145.8 413.8 147.2 413.2 149.8 410.2 152.8 410.2 154.8 411.8 156.2 413.8 156.2 415.8 151.8 422.2 146.2 424.8 146.2 429.2 149.8 431.8 148.8 445.8 134.8 448.8 134.8 451.8 137.2 454.8 137.8 458.8 133.2 459.8 133.2 465.8 138.2 467.2 137.8 471.8 132.2 483.8 132.2 486.2 129.8 486.2 117.2 484.2 114.8 466.8 114.2 463.8 116.2 461.2 120.2 457.8 120.2 455.2 116.2 450.8 112.8 450.2 105.2 444.8 100.8 443.8 92.2 441.2 90.8 436.8 85.2 434.2 84.2 418.8 84.2 416.2 85.2 414.2 88.8 411.8 90.8 404.2 91.2 402.2 94.8 399.8 96.8 387.2 96.8 384.2 94.2 383.8 92.2 384.8 85.2 383.8 80.2 382.2 78.8 375.2 78.8 370.8 72.8 368.8 72.8 364.2 78.8 362.2 78.8 359.2 74.2 356.2 72.2 345.2 72.8 334.2 84.8 331.8 84.2 327.8 78.8 320.8 78.8 318.8 76.8 317.8 73.8 318.8 67.8 317.8 62.2 315.2 60.8 310.8 55.2 308.2 54.2 287.2 54.2 284.2 55.2 280.8 60.2 272.8 60.8ZM314.2 78.8 315.8 80.8 313.2 81.8 312.8 79.8ZM290.2 79.8 294.2 78.2 298.8 79.2 300.8 82.2 300.2 87.2 296.8 89.8 290.2 88.2 288.2 86.2 288.2 82.2Z"/><path fill="#ff9200" d="M323.8 167.2 321.2 160.8 319.2 158.8 317.2 158.2 308.8 159.8 299.8 159.2 297.8 160.8 298.2 168.2 297.2 171.8 300.2 173.2 319.8 173.2 322.8 171.2ZM276.8 148.2 272.2 145.8 259.2 146.8 257.2 148.2 255.8 153.8 253.2 156.2 244.8 158.8 240.2 158.2 236.2 155.2 236.2 176.8 237.2 178.8 240.2 180.2 241.8 179.8 244.8 175.2 251.2 168.8 252.8 168.2 258.8 169.2 267.8 177.2 269.2 177.2 274.2 172.8 279.2 171.8 283.8 169.2 284.8 167.2 284.2 165.8 278.8 161.8 279.2 153.8ZM164.8 119.8 165.2 135.2 161.8 141.8 161.8 144.2 163.8 147.2 181.8 147.8 195.2 153.8 200.8 159.2 202.2 159.2 208.2 153.2 208.2 146.8 211.2 143.2 214.8 143.2 219.2 146.2 220.2 145.8 220.2 138.2 218.2 135.2 213.8 135.2 209.2 139.2 205.8 139.8 201.8 135.2 199.8 134.2 192.2 133.8 189.8 129.2 180.8 127.2 168.8 127.2 166.8 125.2ZM90.8 111.2 90.8 118.8 121.2 118.2 123.8 119.2 134.8 130.2 135.8 134.2 137.8 134.2 141.8 130.2 139.2 123.8 141.2 118.8 145.2 113.8 144.2 112.2 144.8 104.8 143.8 103.2 140.8 102.8 136.2 108.8 134.2 108.8 125.2 97.8 122.2 96.2 105.2 96.8ZM270.8 63.2 270.8 74.8 275.2 77.8 284.8 86.8 284.8 88.8 282.2 92.2 275.2 92.2 272.2 94.2 271.8 96.8 273.2 99.8 281.2 101.2 285.2 105.8 287.2 106.8 297.2 106.2 301.8 100.8 303.8 100.2 309.8 100.8 315.2 105.8 322.8 107.2 326.8 110.8 328.2 110.8 332.2 106.8 339.8 106.8 344.2 110.2 345.2 117.8 351.8 124.2 353.2 124.8 380.8 124.2 385.2 125.8 386.8 129.2 389.2 131.2 393.8 130.2 395.2 127.2 397.8 125.2 406.2 124.8 407.8 125.2 410.2 128.2 410.2 140.8 416.8 146.8 422.2 143.2 424.2 143.2 430.2 146.8 444.8 133.2 453.8 134.2 456.8 130.8 461.2 130.8 465.8 134.2 469.8 130.8 485.8 130.8 486.2 129.8 486.2 117.2 484.2 114.8 466.8 114.2 463.8 116.2 461.2 120.2 457.8 120.2 455.2 116.2 450.8 112.8 450.2 105.2 444.8 100.8 443.8 92.2 441.2 90.8 436.8 85.2 434.2 84.2 418.8 84.2 416.2 85.2 414.2 88.8 411.8 90.8 404.2 91.2 402.2 94.8 399.8 96.8 387.2 96.8 384.2 94.2 383.8 92.2 384.8 85.2 383.8 80.2 382.2 78.8 375.2 78.8 370.8 72.8 368.8 72.8 364.2 78.8 362.2 78.8 359.2 74.2 356.2 72.2 345.2 72.8 334.2 84.8 331.8 84.2 327.8 78.8 320.8 78.8 318.8 76.8 317.8 73.8 318.8 67.8 317.8 62.2 315.2 60.8 310.8 55.2 308.2 54.2 287.2 54.2 284.2 55.2 280.8 60.2 272.8 60.8ZM286.8 79.8 288.8 77.8 291.8 76.8 300.8 77.2 302.2 78.8 303.2 86.2 298.2 90.8 294.2 90.8 289.2 89.2 285.8 86.8ZM317.2 76.8 318.2 77.8 317.8 81.2 314.2 83.8 311.2 83.2 309.8 80.8 310.2 78.2 312.2 76.8Z"/><path fill="#ff6d00" d="M282.8 166.8 280.8 165.8 278.8 168.2 280.8 168.8ZM298.8 161.8 301.2 168.8 302.8 166.2 306.2 163.8 314.2 163.2 318.2 164.2 319.8 163.2 318.8 160.2 316.2 160.2 313.2 161.8 300.2 160.2ZM241.2 161.2 241.2 163.8 247.2 164.8 252.2 167.2 257.2 167.8 260.2 169.2 265.8 174.8 269.2 175.2 275.2 169.8 275.2 168.2 273.2 165.2 273.2 161.2 277.8 157.8 278.2 153.2 276.8 149.2 273.8 146.8 260.8 146.8 257.2 149.2 256.8 153.2 254.8 156.2ZM214.8 136.2 212.8 138.2 212.8 139.8 213.8 140.8 217.2 140.8 218.2 139.8 218.2 137.2 217.2 136.2ZM162.8 141.8 163.2 144.8 165.8 146.8 182.2 146.8 195.2 152.2 199.8 152.2 201.2 151.2 202.2 148.8 201.8 140.8 199.2 136.2 191.2 136.2 189.2 134.8 187.8 131.2 178.2 127.8 173.8 128.2 169.2 130.2ZM426.8 124.2 420.8 123.8 413.2 125.2 412.2 127.2 412.2 139.2 413.2 140.2 420.2 140.2 425.2 134.8 429.2 132.2 429.8 129.8ZM316.8 101.8 317.8 103.8 321.2 103.2 320.8 101.8ZM92.8 109.2 92.8 111.8 91.2 114.2 92.2 115.8 96.8 116.8 122.2 116.8 126.8 119.8 133.2 126.8 136.8 128.2 137.8 127.8 138.2 122.8 142.2 113.2 141.8 108.2 139.8 103.8 136.2 108.8 134.2 108.8 125.2 97.8 122.2 96.2 105.2 96.8ZM274.2 96.2 275.2 98.2 279.2 98.2 280.8 96.8 279.8 95.2 277.2 94.2 275.2 94.8ZM285.2 93.8 285.8 96.8 289.8 99.2 296.2 98.2 307.2 98.8 309.8 97.2 309.8 93.8 310.8 92.2 316.2 93.2 331.8 92.8 336.2 97.8 341.2 99.2 361.8 98.8 369.2 105.8 369.2 111.2 370.2 114.2 375.2 118.2 376.8 121.8 379.2 122.8 391.8 123.2 396.8 122.2 406.8 110.8 410.2 110.8 414.2 116.2 421.8 116.8 427.2 122.2 434.8 123.2 443.2 131.8 449.8 132.2 451.8 131.8 455.2 128.8 486.2 129.2 486.8 127.8 486.2 117.2 484.2 114.8 466.8 114.2 463.8 116.2 461.2 120.2 457.8 120.2 455.2 116.2 450.8 112.8 450.2 105.2 444.8 100.8 443.8 92.2 441.2 90.8 435.8 84.8 418.8 84.2 416.2 85.2 414.2 88.8 411.8 90.8 404.2 91.2 402.2 94.8 399.8 96.8 387.2 96.8 384.2 94.2 383.8 92.2 384.8 85.2 383.8 80.2 382.2 78.8 375.2 78.8 370.8 72.8 368.8 72.8 364.2 78.8 362.2 78.8 359.2 74.2 356.2 72.2 345.2 72.8 334.2 84.8 331.8 84.2 327.8 78.8 320.2 78.2 318.8 81.8 316.2 84.2 310.2 85.8 307.8 88.8 303.8 88.8 297.8 92.8 291.8 90.8 287.2 90.8ZM270.2 65.2 270.8 69.2 277.8 68.8 282.8 74.2 284.8 74.8 289.2 74.2 290.8 73.2 295.8 74.8 311.8 74.8 314.8 73.8 316.2 70.2 318.2 69.2 318.8 67.8 317.8 62.2 315.2 60.8 310.8 55.2 308.2 54.2 285.2 54.8 279.8 60.8 272.8 60.8Z"/><path fill="#ff4900" d="M261.2 147.2 257.8 149.8 257.8 153.8 255.8 156.8 247.8 159.2 245.8 160.8 245.8 161.8 253.2 166.2 259.8 167.8 264.2 172.2 268.2 173.8 271.8 169.8 270.8 164.2 271.2 158.8 276.8 155.8 276.8 151.2 274.2 147.8 271.8 146.8ZM164.2 140.8 164.2 143.8 166.8 145.8 181.8 145.2 192.2 150.2 196.8 150.2 199.2 146.8 199.2 141.2 197.2 138.2 189.2 137.8 184.8 131.8 178.8 128.8 175.8 128.8 171.2 131.2 168.2 134.2ZM424.8 126.2 418.2 125.8 414.8 127.8 413.8 129.8 413.8 136.2 415.2 138.2 419.2 137.8 426.2 131.2 426.8 128.8ZM94.8 107.8 96.2 113.2 97.8 114.8 122.8 115.2 124.8 116.2 133.8 125.2 135.8 125.2 136.8 124.2 139.2 116.8 139.2 110.8 137.8 107.2 136.2 108.8 134.2 108.8 125.2 97.8 122.2 96.2 105.2 96.8ZM288.2 92.8 287.8 94.2 290.2 96.8 292.8 96.8 294.8 95.2 294.2 93.2 290.2 91.8ZM303.8 90.8 300.8 92.8 300.2 95.2 301.8 96.8 304.8 97.2 307.2 95.8 307.2 93.2 305.8 91.2ZM312.2 87.8 312.8 89.8 315.2 91.2 333.2 91.2 339.8 96.8 361.8 96.8 371.2 103.8 372.2 112.2 380.2 120.8 381.8 121.2 394.8 120.2 404.8 109.8 406.8 108.8 410.2 108.8 412.2 109.8 415.2 113.8 422.8 115.2 428.8 120.2 435.2 121.2 443.8 129.8 445.8 130.8 449.2 130.8 455.8 126.8 486.8 127.2 486.2 117.2 484.2 114.8 466.8 114.2 463.8 116.2 461.2 120.2 457.8 120.2 455.2 116.2 450.8 112.8 450.2 105.2 444.8 100.8 443.8 92.2 441.2 90.8 436.8 85.2 434.2 84.2 418.8 84.2 416.2 85.2 414.2 88.8 411.8 90.8 404.2 91.2 402.2 94.8 399.8 96.8 387.2 96.8 384.2 94.2 383.8 89.8 384.8 83.2 382.2 78.8 375.2 78.8 370.8 72.8 368.8 72.8 364.2 78.8 362.2 78.8 357.8 72.8 354.2 72.2 344.2 73.2 334.2 84.8 331.8 84.2 327.8 78.8 321.2 78.8 319.8 82.2ZM374.8 92.2 377.2 92.8 378.8 95.2 378.8 98.2 376.2 100.8 374.2 100.8 372.8 98.2 372.8 94.2ZM270.2 65.2 270.2 67.2 279.2 67.2 283.8 71.8 287.2 71.8 290.2 68.8 292.2 68.2 298.2 73.2 311.2 72.2 314.2 68.2 318.8 66.8 317.8 62.2 315.2 60.8 310.8 55.2 308.2 54.2 285.2 54.8 279.8 60.8 272.8 60.8Z"/><path fill="#ff2400" d="M261.2 147.8 258.8 149.8 259.2 155.8 257.2 157.8 250.2 159.2 248.2 161.2 252.8 164.8 260.2 166.8 265.2 171.2 267.8 171.8 269.2 170.2 268.8 158.2 270.8 155.8 275.2 154.2 275.8 151.2 273.2 147.8 271.2 147.2ZM165.8 140.2 165.8 143.2 167.2 144.2 182.8 143.8 188.8 147.8 193.2 149.2 196.2 148.2 197.2 146.8 197.2 142.2 195.8 140.2 188.2 139.2 180.8 130.8 178.2 129.8 175.2 130.2ZM424.2 128.8 422.2 127.2 417.2 128.2 415.2 130.8 415.8 135.2 419.2 135.2 423.8 131.2ZM96.2 106.2 98.2 111.8 99.8 113.2 122.2 113.2 125.8 114.8 132.8 122.8 134.8 123.2 136.2 121.2 137.2 117.8 136.8 109.2 134.2 108.8 130.8 103.8 123.8 96.8 105.2 96.8ZM314.8 87.8 316.2 89.8 332.8 89.2 335.2 90.2 340.8 95.2 362.8 95.2 368.8 99.8 370.8 98.8 371.2 92.2 374.8 89.8 377.8 90.2 380.2 92.8 380.8 98.2 379.8 100.8 374.2 104.8 373.8 110.8 382.2 119.2 393.2 118.8 403.8 108.2 405.8 107.2 412.8 107.8 417.2 112.8 424.2 113.8 429.8 118.8 437.2 120.2 446.2 129.2 448.8 129.2 454.2 125.2 486.2 125.2 486.2 117.2 484.2 114.8 481.8 114.2 466.8 114.2 463.8 116.2 461.2 120.2 457.8 120.2 455.2 116.2 450.8 112.8 450.2 105.2 444.8 100.8 443.8 92.2 441.2 90.8 436.8 85.2 434.2 84.2 418.8 84.2 416.2 85.2 414.2 88.8 411.8 90.8 404.2 91.2 402.2 94.8 399.8 96.8 387.2 96.8 384.2 94.2 383.8 89.8 384.8 83.2 382.2 78.8 375.2 78.8 370.8 72.8 368.8 72.8 364.2 78.8 362.2 78.8 357.8 72.8 354.2 72.2 344.2 73.2 334.2 84.8 331.8 84.2 327.8 78.8 322.8 78.8 319.8 84.2ZM270.2 65.2 278.8 65.2 284.8 69.8 286.8 69.2 289.8 66.2 292.2 65.8 293.8 66.2 298.2 71.2 301.2 71.8 308.2 71.2 310.2 70.2 314.2 65.8 318.8 64.8 317.8 62.2 315.2 60.8 309.8 54.8 287.2 54.2 284.2 55.2 282.2 58.8 279.8 60.8 272.8 60.8Z"/><path fill="#ff0000" d="M265.8 166.8 266.2 160.8 264.8 158.2 260.2 159.8 253.8 159.8 251.2 160.8 254.8 164.2ZM259.8 150.2 260.2 152.2 263.8 154.2 270.8 153.8 274.2 152.2 274.2 150.2 272.2 148.2 262.8 148.2ZM187.2 142.2 187.2 143.8 189.8 146.8 194.2 147.2 195.2 146.2 194.8 142.2ZM184.2 139.8 180.8 133.8 178.8 131.8 176.8 131.8 168.8 139.8 168.2 141.2 182.8 141.2 184.2 140.8ZM421.2 130.2 419.2 129.8 417.8 132.2 419.2 132.2ZM99.2 102.8 100.2 109.8 101.8 111.2 126.2 110.8 128.2 112.2 130.8 117.2 133.2 119.8 134.2 119.2 133.8 108.2 130.8 103.8 127.8 108.2 125.8 106.8 125.2 100.8 126.2 99.2 123.8 96.8 120.8 98.2 115.8 98.8 113.8 98.2 112.8 96.8 106.8 96.2 104.2 97.2ZM107.2 100.8 109.8 102.2 109.8 104.8 108.8 106.2 107.2 106.2 105.8 104.2 105.8 101.8ZM320.2 86.8 336.8 87.2 341.8 93.2 362.2 92.8 365.8 94.2 367.8 94.2 368.8 88.8 370.8 87.2 381.2 87.8 383.2 89.8 383.8 91.8 382.8 102.8 380.8 104.8 377.2 105.8 375.8 107.2 375.8 109.8 379.8 112.2 383.8 117.2 392.2 116.8 394.2 113.8 399.2 109.8 402.2 105.2 411.2 104.8 416.8 106.2 419.8 111.2 426.8 110.8 429.2 115.2 431.8 117.2 439.2 117.2 442.2 122.2 447.2 126.8 450.2 123.2 451.8 122.8 486.2 122.8 485.8 116.2 484.2 114.8 481.8 114.2 466.8 114.2 463.8 116.2 461.2 120.2 458.8 120.8 456.2 118.8 455.2 116.2 450.8 112.8 449.8 104.2 437.2 105.2 435.8 102.8 437.8 99.8 444.8 100.2 444.2 93.2 438.2 87.8 436.8 85.2 434.2 84.2 418.8 84.2 416.2 85.2 414.2 88.8 411.8 90.8 404.2 91.2 402.8 93.2 402.2 96.2 387.2 96.8 384.2 94.2 383.8 89.8 384.8 83.2 382.2 78.8 375.2 78.8 370.8 72.8 368.8 72.8 364.2 78.8 362.2 78.8 357.8 72.8 354.2 72.2 344.2 73.2 334.2 84.8 331.8 84.2 327.8 78.8 325.2 78.8ZM427.2 107.8 428.8 106.2 432.8 106.2 434.8 107.8 434.8 109.2 432.8 110.8 428.2 110.8 427.2 109.8ZM383.2 107.8 384.8 106.2 390.2 107.8 391.2 109.2 390.2 110.2 385.2 110.8 383.2 109.2ZM341.2 84.8 342.2 83.8 344.2 83.8 345.2 84.8 343.8 85.8ZM271.2 62.2 279.8 62.8 285.2 64.8 287.8 63.2 295.2 63.2 297.2 64.8 299.8 69.2 308.2 68.8 311.8 63.2 317.8 62.8 312.2 57.8 310.8 55.2 308.2 54.2 287.2 54.2 284.2 55.2 280.8 60.2 272.8 60.8Z"/><path fill="#db0000" d="M262.8 150.2 264.2 151.2 269.2 151.8 272.2 150.8 271.2 149.2ZM114.2 103.2 113.2 105.8 114.2 108.8 119.8 109.2 121.2 108.2 121.8 105.8 120.2 102.8 115.8 102.2ZM406.8 90.8 408.2 94.8 415.2 102.2 418.2 102.2 423.2 98.8 428.2 102.2 431.2 102.2 436.8 97.2 444.2 97.2 443.8 92.2 441.2 90.8 436.8 85.2 434.2 84.2 418.8 84.2 416.2 85.2 412.8 90.2Z"/><path fill="#b60000" d="M409.2 90.8 410.8 94.2 415.8 99.2 418.2 99.2 421.8 96.2 425.2 96.2 429.8 99.8 435.8 95.2 444.2 95.2 443.8 92.2 441.2 90.8 436.8 85.2 434.2 84.2 418.8 84.2 416.2 85.2 412.8 90.2Z"/><path fill="#920000" d="M434.2 90.2 434.2 91.2 437.2 92.2 443.2 91.8 438.8 88.2ZM414.8 87.8 412.8 90.8 414.2 92.2 415.8 92.2 415.8 89.2Z"/></g>
<g stroke="#5a5a5a" stroke-width="1" fill="none"><line x1="54.7" y1="207.5" x2="257.6" y2="274.6"/><line x1="257.6" y1="274.6" x2="522.2" y2="223.3"/><line x1="54.7" y1="207.5" x2="49" y2="205.6"/><line x1="54.7" y1="170.5" x2="49" y2="168.6"/><line x1="54.7" y1="133.5" x2="49" y2="131.6"/><line x1="54.7" y1="96.5" x2="49" y2="94.6"/><line x1="54.7" y1="59.5" x2="49" y2="57.6"/><line x1="54.7" y1="207.5" x2="48.8" y2="208.6"/><line x1="95.3" y1="220.9" x2="89.4" y2="222.1"/><line x1="135.9" y1="234.3" x2="130" y2="235.5"/><line x1="176.4" y1="247.8" x2="170.5" y2="248.9"/><line x1="217" y1="261.2" x2="211.1" y2="262.3"/><line x1="257.6" y1="274.6" x2="251.7" y2="275.7"/><line x1="257.6" y1="274.6" x2="263.3" y2="276.5"/><line x1="323.8" y1="261.8" x2="329.4" y2="263.7"/><line x1="389.9" y1="249" x2="395.6" y2="250.8"/><line x1="456.1" y1="236.1" x2="461.7" y2="238"/><line x1="522.2" y1="223.3" x2="527.9" y2="225.2"/></g>
<g class="t" text-anchor="end">
<text x="45.5" y="63">120</text><text x="45.5" y="99">110</text><text x="45.5" y="136">100</text><text x="45.5" y="174">90</text><text x="45.5" y="211">80</text>
</g>
<g class="t">
<text x="16" y="222.5">312.5</text><text x="67" y="236.5">250</text><text x="98" y="249">187.5</text><text x="149.5" y="262.7">125</text><text x="185.3" y="276">62.5</text><text x="242.5" y="289">0</text>
<text x="266" y="291.5">0</text><text x="331" y="278.5">20</text><text x="398" y="264.5">40</text><text x="464" y="251.5">60</text><text x="530" y="238.5">80</text>
</g>
<text class="l" x="23" y="300">Distance in driving direction<tspan dx="-3.8">（</tspan><tspan dx="1.5">mm</tspan><tspan dx="3.2">）</tspan></text>
<text class="l" x="328" y="300.5">Distance in tire width direction<tspan dx="-3.8">（</tspan><tspan dx="1.5">mm</tspan><tspan dx="3.2">）</tspan></text>
<text class="l" transform="translate(22.4,194.2) rotate(-90)">Vertical distance <tspan>（</tspan><tspan dx="2.3">mm</tspan><tspan dx="3">）</tspan></text>
</svg>
</body></html>
